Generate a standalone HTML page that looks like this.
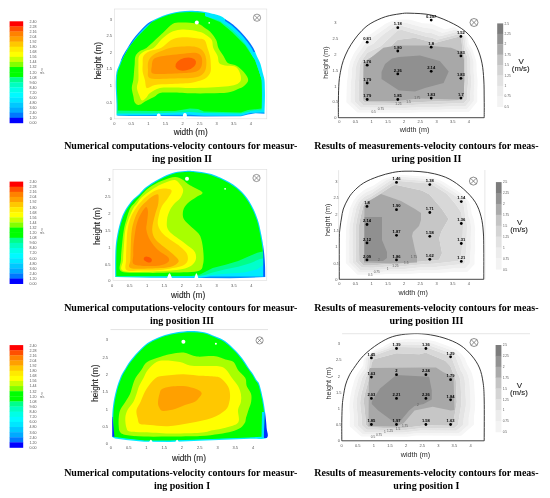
<!DOCTYPE html><html><head><meta charset="utf-8"><style>
html,body{margin:0;padding:0;background:#fff;}
svg{display:block;}
.cap{font-family:"Liberation Serif",serif;font-weight:bold;font-size:10px;fill:#000;}
.tk{font-family:"Liberation Sans",sans-serif;font-size:4px;fill:#555;}
.ax2{font-family:"Liberation Sans",sans-serif;font-size:7.2px;fill:#2a2a2a;}
.ax{font-family:"Liberation Sans",sans-serif;font-size:8.3px;fill:#222;stroke:#222;stroke-width:0.1px;}
</style></head><body>
<svg width="550" height="498" viewBox="0 0 550 498">
<defs>
<filter id="bl" x="-5%" y="-5%" width="110%" height="110%"><feGaussianBlur stdDeviation="0.7"/></filter>
<filter id="bl2" x="-5%" y="-5%" width="110%" height="110%"><feGaussianBlur stdDeviation="0.45"/></filter>
</defs>

<g>
<rect x="9.6" y="21.30" width="13.6" height="5.38" fill="#ff0000"/>
<rect x="9.6" y="26.38" width="13.6" height="5.38" fill="#ff5000"/>
<rect x="9.6" y="31.46" width="13.6" height="5.38" fill="#ff8200"/>
<rect x="9.6" y="36.54" width="13.6" height="5.38" fill="#ffa000"/>
<rect x="9.6" y="41.62" width="13.6" height="5.38" fill="#ffc800"/>
<rect x="9.6" y="46.70" width="13.6" height="5.38" fill="#ffea00"/>
<rect x="9.6" y="51.78" width="13.6" height="5.38" fill="#ffff00"/>
<rect x="9.6" y="56.86" width="13.6" height="5.38" fill="#c8ff00"/>
<rect x="9.6" y="61.94" width="13.6" height="5.38" fill="#82ff00"/>
<rect x="9.6" y="67.02" width="13.6" height="5.38" fill="#00ff00"/>
<rect x="9.6" y="72.10" width="13.6" height="5.38" fill="#00ff00"/>
<rect x="9.6" y="77.18" width="13.6" height="5.38" fill="#00ff8c"/>
<rect x="9.6" y="82.26" width="13.6" height="5.38" fill="#00ffc0"/>
<rect x="9.6" y="87.34" width="13.6" height="5.38" fill="#00ffe6"/>
<rect x="9.6" y="92.42" width="13.6" height="5.38" fill="#00faff"/>
<rect x="9.6" y="97.50" width="13.6" height="5.38" fill="#00e6ff"/>
<rect x="9.6" y="102.58" width="13.6" height="5.38" fill="#00c8ff"/>
<rect x="9.6" y="107.66" width="13.6" height="5.38" fill="#00aaff"/>
<rect x="9.6" y="112.74" width="13.6" height="5.38" fill="#0078ff"/>
<rect x="9.6" y="117.82" width="13.6" height="5.38" fill="#0000ff"/>
<text class="tk" x="29.6" y="22.70" style="font-size:3.6px" fill="#444">2.40</text>
<text class="tk" x="29.6" y="27.78" style="font-size:3.6px" fill="#444">2.28</text>
<text class="tk" x="29.6" y="32.86" style="font-size:3.6px" fill="#444">2.16</text>
<text class="tk" x="29.6" y="37.94" style="font-size:3.6px" fill="#444">2.04</text>
<text class="tk" x="29.6" y="43.02" style="font-size:3.6px" fill="#444">1.92</text>
<text class="tk" x="29.6" y="48.10" style="font-size:3.6px" fill="#444">1.80</text>
<text class="tk" x="29.6" y="53.18" style="font-size:3.6px" fill="#444">1.68</text>
<text class="tk" x="29.6" y="58.26" style="font-size:3.6px" fill="#444">1.56</text>
<text class="tk" x="29.6" y="63.34" style="font-size:3.6px" fill="#444">1.44</text>
<text class="tk" x="29.6" y="68.42" style="font-size:3.6px" fill="#444">1.32</text>
<text class="tk" x="29.6" y="73.50" style="font-size:3.6px" fill="#444">1.20</text>
<text class="tk" x="29.6" y="78.58" style="font-size:3.6px" fill="#444">1.08</text>
<text class="tk" x="29.6" y="83.66" style="font-size:3.6px" fill="#444">9.60</text>
<text class="tk" x="29.6" y="88.74" style="font-size:3.6px" fill="#444">8.40</text>
<text class="tk" x="29.6" y="93.82" style="font-size:3.6px" fill="#444">7.20</text>
<text class="tk" x="29.6" y="98.90" style="font-size:3.6px" fill="#444">6.00</text>
<text class="tk" x="29.6" y="103.98" style="font-size:3.6px" fill="#444">4.80</text>
<text class="tk" x="29.6" y="109.06" style="font-size:3.6px" fill="#444">3.60</text>
<text class="tk" x="29.6" y="114.14" style="font-size:3.6px" fill="#444">2.40</text>
<text class="tk" x="29.6" y="119.22" style="font-size:3.6px" fill="#444">1.20</text>
<text class="tk" x="29.6" y="124.30" style="font-size:3.6px" fill="#444">0.00</text>
<text class="tk" x="41" y="70.6" style="font-size:2.6px">V</text>
<text class="tk" x="40" y="73.6" style="font-size:2.6px">m/s</text>
</g>
<g>
<rect x="9.6" y="181.60" width="13.6" height="5.40" fill="#ff0000"/>
<rect x="9.6" y="186.70" width="13.6" height="5.40" fill="#ff5000"/>
<rect x="9.6" y="191.81" width="13.6" height="5.40" fill="#ff8200"/>
<rect x="9.6" y="196.91" width="13.6" height="5.40" fill="#ffa000"/>
<rect x="9.6" y="202.02" width="13.6" height="5.40" fill="#ffc800"/>
<rect x="9.6" y="207.12" width="13.6" height="5.40" fill="#ffea00"/>
<rect x="9.6" y="212.23" width="13.6" height="5.40" fill="#ffff00"/>
<rect x="9.6" y="217.33" width="13.6" height="5.40" fill="#c8ff00"/>
<rect x="9.6" y="222.44" width="13.6" height="5.40" fill="#82ff00"/>
<rect x="9.6" y="227.54" width="13.6" height="5.40" fill="#00ff00"/>
<rect x="9.6" y="232.65" width="13.6" height="5.40" fill="#00ff00"/>
<rect x="9.6" y="237.75" width="13.6" height="5.40" fill="#00ff8c"/>
<rect x="9.6" y="242.86" width="13.6" height="5.40" fill="#00ffc0"/>
<rect x="9.6" y="247.96" width="13.6" height="5.40" fill="#00ffe6"/>
<rect x="9.6" y="253.07" width="13.6" height="5.40" fill="#00faff"/>
<rect x="9.6" y="258.17" width="13.6" height="5.40" fill="#00e6ff"/>
<rect x="9.6" y="263.28" width="13.6" height="5.40" fill="#00c8ff"/>
<rect x="9.6" y="268.38" width="13.6" height="5.40" fill="#00aaff"/>
<rect x="9.6" y="273.49" width="13.6" height="5.40" fill="#0078ff"/>
<rect x="9.6" y="278.59" width="13.6" height="5.40" fill="#0000ff"/>
<text class="tk" x="29.6" y="183.00" style="font-size:3.6px" fill="#444">2.40</text>
<text class="tk" x="29.6" y="188.10" style="font-size:3.6px" fill="#444">2.28</text>
<text class="tk" x="29.6" y="193.21" style="font-size:3.6px" fill="#444">2.16</text>
<text class="tk" x="29.6" y="198.31" style="font-size:3.6px" fill="#444">2.04</text>
<text class="tk" x="29.6" y="203.42" style="font-size:3.6px" fill="#444">1.92</text>
<text class="tk" x="29.6" y="208.53" style="font-size:3.6px" fill="#444">1.80</text>
<text class="tk" x="29.6" y="213.63" style="font-size:3.6px" fill="#444">1.68</text>
<text class="tk" x="29.6" y="218.73" style="font-size:3.6px" fill="#444">1.56</text>
<text class="tk" x="29.6" y="223.84" style="font-size:3.6px" fill="#444">1.44</text>
<text class="tk" x="29.6" y="228.94" style="font-size:3.6px" fill="#444">1.32</text>
<text class="tk" x="29.6" y="234.05" style="font-size:3.6px" fill="#444">1.20</text>
<text class="tk" x="29.6" y="239.16" style="font-size:3.6px" fill="#444">1.08</text>
<text class="tk" x="29.6" y="244.26" style="font-size:3.6px" fill="#444">9.60</text>
<text class="tk" x="29.6" y="249.36" style="font-size:3.6px" fill="#444">8.40</text>
<text class="tk" x="29.6" y="254.47" style="font-size:3.6px" fill="#444">7.20</text>
<text class="tk" x="29.6" y="259.57" style="font-size:3.6px" fill="#444">6.00</text>
<text class="tk" x="29.6" y="264.68" style="font-size:3.6px" fill="#444">4.80</text>
<text class="tk" x="29.6" y="269.78" style="font-size:3.6px" fill="#444">3.60</text>
<text class="tk" x="29.6" y="274.89" style="font-size:3.6px" fill="#444">2.40</text>
<text class="tk" x="29.6" y="279.99" style="font-size:3.6px" fill="#444">1.20</text>
<text class="tk" x="29.6" y="285.10" style="font-size:3.6px" fill="#444">0.00</text>
<text class="tk" x="41" y="231.1" style="font-size:2.6px">V</text>
<text class="tk" x="40" y="234.1" style="font-size:2.6px">m/s</text>
</g>
<g>
<rect x="9.6" y="345.10" width="13.6" height="5.42" fill="#ff0000"/>
<rect x="9.6" y="350.22" width="13.6" height="5.42" fill="#ff5000"/>
<rect x="9.6" y="355.34" width="13.6" height="5.42" fill="#ff8200"/>
<rect x="9.6" y="360.46" width="13.6" height="5.42" fill="#ffa000"/>
<rect x="9.6" y="365.58" width="13.6" height="5.42" fill="#ffc800"/>
<rect x="9.6" y="370.70" width="13.6" height="5.42" fill="#ffea00"/>
<rect x="9.6" y="375.82" width="13.6" height="5.42" fill="#ffff00"/>
<rect x="9.6" y="380.94" width="13.6" height="5.42" fill="#c8ff00"/>
<rect x="9.6" y="386.06" width="13.6" height="5.42" fill="#82ff00"/>
<rect x="9.6" y="391.18" width="13.6" height="5.42" fill="#00ff00"/>
<rect x="9.6" y="396.30" width="13.6" height="5.42" fill="#00ff00"/>
<rect x="9.6" y="401.42" width="13.6" height="5.42" fill="#00ff8c"/>
<rect x="9.6" y="406.54" width="13.6" height="5.42" fill="#00ffc0"/>
<rect x="9.6" y="411.66" width="13.6" height="5.42" fill="#00ffe6"/>
<rect x="9.6" y="416.78" width="13.6" height="5.42" fill="#00faff"/>
<rect x="9.6" y="421.90" width="13.6" height="5.42" fill="#00e6ff"/>
<rect x="9.6" y="427.02" width="13.6" height="5.42" fill="#00c8ff"/>
<rect x="9.6" y="432.14" width="13.6" height="5.42" fill="#00aaff"/>
<rect x="9.6" y="437.26" width="13.6" height="5.42" fill="#0078ff"/>
<rect x="9.6" y="442.38" width="13.6" height="5.42" fill="#0000ff"/>
<text class="tk" x="29.6" y="346.50" style="font-size:3.6px" fill="#444">2.40</text>
<text class="tk" x="29.6" y="351.62" style="font-size:3.6px" fill="#444">2.28</text>
<text class="tk" x="29.6" y="356.74" style="font-size:3.6px" fill="#444">2.16</text>
<text class="tk" x="29.6" y="361.86" style="font-size:3.6px" fill="#444">2.04</text>
<text class="tk" x="29.6" y="366.98" style="font-size:3.6px" fill="#444">1.92</text>
<text class="tk" x="29.6" y="372.10" style="font-size:3.6px" fill="#444">1.80</text>
<text class="tk" x="29.6" y="377.22" style="font-size:3.6px" fill="#444">1.68</text>
<text class="tk" x="29.6" y="382.34" style="font-size:3.6px" fill="#444">1.56</text>
<text class="tk" x="29.6" y="387.46" style="font-size:3.6px" fill="#444">1.44</text>
<text class="tk" x="29.6" y="392.58" style="font-size:3.6px" fill="#444">1.32</text>
<text class="tk" x="29.6" y="397.70" style="font-size:3.6px" fill="#444">1.20</text>
<text class="tk" x="29.6" y="402.82" style="font-size:3.6px" fill="#444">1.08</text>
<text class="tk" x="29.6" y="407.94" style="font-size:3.6px" fill="#444">9.60</text>
<text class="tk" x="29.6" y="413.06" style="font-size:3.6px" fill="#444">8.40</text>
<text class="tk" x="29.6" y="418.18" style="font-size:3.6px" fill="#444">7.20</text>
<text class="tk" x="29.6" y="423.30" style="font-size:3.6px" fill="#444">6.00</text>
<text class="tk" x="29.6" y="428.42" style="font-size:3.6px" fill="#444">4.80</text>
<text class="tk" x="29.6" y="433.54" style="font-size:3.6px" fill="#444">3.60</text>
<text class="tk" x="29.6" y="438.66" style="font-size:3.6px" fill="#444">2.40</text>
<text class="tk" x="29.6" y="443.78" style="font-size:3.6px" fill="#444">1.20</text>
<text class="tk" x="29.6" y="448.90" style="font-size:3.6px" fill="#444">0.00</text>
<text class="tk" x="41" y="394.8" style="font-size:2.6px">V</text>
<text class="tk" x="40" y="397.8" style="font-size:2.6px">m/s</text>
</g>
<text class="cap" x="180.8" y="149" text-anchor="middle">Numerical computations-velocity contours for measur-</text>
<text class="cap" x="182" y="161.7" text-anchor="middle">ing position II</text>
<text class="cap" x="426.4" y="149" text-anchor="middle">Results of measurements-velocity contours for meas-</text>
<text class="cap" x="426.4" y="161.7" text-anchor="middle">uring position II</text>
<text class="cap" x="180.8" y="311" text-anchor="middle">Numerical computations-velocity contours for measur-</text>
<text class="cap" x="182" y="323.7" text-anchor="middle">ing position III</text>
<text class="cap" x="426.4" y="311" text-anchor="middle">Results of measurements-velocity contours for meas-</text>
<text class="cap" x="426.4" y="323.7" text-anchor="middle">uring position III</text>
<text class="cap" x="180.8" y="475.8" text-anchor="middle">Numerical computations-velocity contours for measur-</text>
<text class="cap" x="182" y="488.5" text-anchor="middle">ing position I</text>
<text class="cap" x="426.4" y="475.8" text-anchor="middle">Results of measurements-velocity contours for meas-</text>
<text class="cap" x="426.4" y="488.5" text-anchor="middle">uring position I</text>
<rect x="114.5" y="9" width="152.3" height="109.8" fill="none" stroke="#dcdcdc" stroke-width="0.6"/>
<text class="tk" x="112.0" y="120.1" text-anchor="end">0</text>
<text class="tk" x="112.0" y="103.5" text-anchor="end">0.5</text>
<text class="tk" x="112.0" y="86.9" text-anchor="end">1</text>
<text class="tk" x="112.0" y="70.3" text-anchor="end">1.5</text>
<text class="tk" x="112.0" y="53.8" text-anchor="end">2</text>
<text class="tk" x="112.0" y="37.2" text-anchor="end">2.5</text>
<text class="tk" x="112.0" y="20.6" text-anchor="end">3</text>
<text class="tk" x="114.3" y="124.5" text-anchor="middle">0</text>
<text class="tk" x="131.4" y="124.5" text-anchor="middle">0.5</text>
<text class="tk" x="148.4" y="124.5" text-anchor="middle">1</text>
<text class="tk" x="165.5" y="124.5" text-anchor="middle">1.5</text>
<text class="tk" x="182.6" y="124.5" text-anchor="middle">2</text>
<text class="tk" x="199.6" y="124.5" text-anchor="middle">2.5</text>
<text class="tk" x="216.7" y="124.5" text-anchor="middle">3</text>
<text class="tk" x="233.7" y="124.5" text-anchor="middle">3.5</text>
<text class="tk" x="250.8" y="124.5" text-anchor="middle">4</text>
<text class="ax" x="173.7" y="135.1">width (m)</text>
<text class="ax" transform="translate(100.6,60.6) rotate(-90)" text-anchor="middle">height (m)</text>
<g stroke="#555" stroke-width="0.6" fill="none"><circle cx="257" cy="17.7" r="3.6"/><path d="M254.6,15.299999999999999 L259.4,20.099999999999998 M254.6,20.099999999999998 L259.4,15.299999999999999"/></g>
<clipPath id="c1"><path d="M116.5,115.3 C116.5,113.4 116.6,108.5 116.5,104.0 C116.4,99.5 115.9,92.0 115.8,88.0 C115.7,84.0 115.7,82.7 115.8,80.0 C115.9,77.3 115.9,74.7 116.5,72.0 C117.1,69.3 118.5,66.7 119.5,64.0 C120.5,61.3 121.4,58.7 122.7,56.0 C124.0,53.3 125.9,50.7 127.5,48.0 C129.1,45.3 130.6,42.7 132.5,40.0 C134.4,37.3 136.7,34.7 139.1,32.0 C141.5,29.3 144.6,26.0 147.0,24.0 C149.4,22.0 151.0,21.3 153.6,20.0 C156.2,18.7 159.5,17.1 162.4,16.0 C165.3,14.9 168.1,13.9 171.0,13.2 C173.9,12.4 176.8,11.9 180.0,11.5 C183.2,11.1 186.7,10.8 190.0,10.8 C193.3,10.8 197.1,11.0 200.0,11.3 C202.9,11.6 204.1,11.7 207.5,12.5 C210.9,13.3 217.3,14.8 220.5,16.0 C223.7,17.2 224.3,18.6 226.4,20.0 C228.5,21.4 230.6,22.5 233.0,24.5 C235.4,26.5 238.4,29.4 240.9,32.0 C243.4,34.6 245.7,37.3 247.8,40.0 C249.9,42.7 251.8,45.3 253.3,48.0 C254.8,50.7 255.6,53.3 256.8,56.0 C258.0,58.7 259.6,61.3 260.5,64.0 C261.4,66.7 261.8,69.3 262.5,72.0 C263.2,74.7 264.1,77.0 264.5,80.0 C264.9,83.0 264.8,86.7 264.9,90.0 C265.0,93.3 265.0,96.0 264.9,100.0 C264.8,104.0 264.6,111.5 264.5,113.8 L255.5,113.2 L248.0,114.5 L241.0,116.2 L204.5,116.5 L190.0,116.3 L158.7,116.0 L130.0,116.0 L118.0,115.8Z"/></clipPath>
<g clip-path="url(#c1)"><g filter="url(#bl)">
<path d="M116.5,115.3 C116.5,113.4 116.6,108.5 116.5,104.0 C116.4,99.5 115.9,92.0 115.8,88.0 C115.7,84.0 115.7,82.7 115.8,80.0 C115.9,77.3 115.9,74.7 116.5,72.0 C117.1,69.3 118.5,66.7 119.5,64.0 C120.5,61.3 121.4,58.7 122.7,56.0 C124.0,53.3 125.9,50.7 127.5,48.0 C129.1,45.3 130.6,42.7 132.5,40.0 C134.4,37.3 136.7,34.7 139.1,32.0 C141.5,29.3 144.6,26.0 147.0,24.0 C149.4,22.0 151.0,21.3 153.6,20.0 C156.2,18.7 159.5,17.1 162.4,16.0 C165.3,14.9 168.1,13.9 171.0,13.2 C173.9,12.4 176.8,11.9 180.0,11.5 C183.2,11.1 186.7,10.8 190.0,10.8 C193.3,10.8 197.1,11.0 200.0,11.3 C202.9,11.6 204.1,11.7 207.5,12.5 C210.9,13.3 217.3,14.8 220.5,16.0 C223.7,17.2 224.3,18.6 226.4,20.0 C228.5,21.4 230.6,22.5 233.0,24.5 C235.4,26.5 238.4,29.4 240.9,32.0 C243.4,34.6 245.7,37.3 247.8,40.0 C249.9,42.7 251.8,45.3 253.3,48.0 C254.8,50.7 255.6,53.3 256.8,56.0 C258.0,58.7 259.6,61.3 260.5,64.0 C261.4,66.7 261.8,69.3 262.5,72.0 C263.2,74.7 264.1,77.0 264.5,80.0 C264.9,83.0 264.8,86.7 264.9,90.0 C265.0,93.3 265.0,96.0 264.9,100.0 C264.8,104.0 264.6,111.5 264.5,113.8 L255.5,113.2 L248.0,114.5 L241.0,116.2 L204.5,116.5 L190.0,116.3 L158.7,116.0 L130.0,116.0 L118.0,115.8Z" fill="#00ff00" stroke="#00d8ff" stroke-width="2.2"/>
<clipPath id="tr1"><path d="M205,0 L280,0 L280,80 L262,80 L255,60 L245,45 L232,32 L220,22 L205,16Z"/></clipPath><clipPath id="tl1"><path d="M100,0 L170,0 L150,24 L138,36 L128,48 L122,60 L100,60Z"/></clipPath><clipPath id="tb1"><path d="M225,15 L260,15 L260,52 L225,52Z"/></clipPath><clipPath id="rr1"><path d="M250,60 L280,60 L280,112 L250,112Z"/></clipPath><path d="M105,130 L105,110.5 L150,111 L175,111 L190,108.5 L198,109 L204,111.5 L241,112.5 L248,110 L262,108.5 L275,108 L275,130Z" fill="#00ff90"/><path d="M105,130 L105,113.6 L150,113.6 L190,112 L204,113 L241,113.5 L250,111.5 L262,110.5 L275,110 L275,130Z" fill="#00e6ff"/><path d="M105,130 L105,115.6 L190,114.8 L204,115.8 L241,115.8 L250,113 L262,112.6 L275,112.6 L275,130Z" fill="#0090ff"/><g clip-path="url(#tr1)"><path d="M116.5,115.3 C116.5,113.4 116.6,108.5 116.5,104.0 C116.4,99.5 115.9,92.0 115.8,88.0 C115.7,84.0 115.7,82.7 115.8,80.0 C115.9,77.3 115.9,74.7 116.5,72.0 C117.1,69.3 118.5,66.7 119.5,64.0 C120.5,61.3 121.4,58.7 122.7,56.0 C124.0,53.3 125.9,50.7 127.5,48.0 C129.1,45.3 130.6,42.7 132.5,40.0 C134.4,37.3 136.7,34.7 139.1,32.0 C141.5,29.3 144.6,26.0 147.0,24.0 C149.4,22.0 151.0,21.3 153.6,20.0 C156.2,18.7 159.5,17.1 162.4,16.0 C165.3,14.9 168.1,13.9 171.0,13.2 C173.9,12.4 176.8,11.9 180.0,11.5 C183.2,11.1 186.7,10.8 190.0,10.8 C193.3,10.8 197.1,11.0 200.0,11.3 C202.9,11.6 204.1,11.7 207.5,12.5 C210.9,13.3 217.3,14.8 220.5,16.0 C223.7,17.2 224.3,18.6 226.4,20.0 C228.5,21.4 230.6,22.5 233.0,24.5 C235.4,26.5 238.4,29.4 240.9,32.0 C243.4,34.6 245.7,37.3 247.8,40.0 C249.9,42.7 251.8,45.3 253.3,48.0 C254.8,50.7 255.6,53.3 256.8,56.0 C258.0,58.7 259.6,61.3 260.5,64.0 C261.4,66.7 261.8,69.3 262.5,72.0 C263.2,74.7 264.1,77.0 264.5,80.0 C264.9,83.0 264.8,86.7 264.9,90.0 C265.0,93.3 265.0,96.0 264.9,100.0 C264.8,104.0 264.6,111.5 264.5,113.8 L255.5,113.2 L248.0,114.5 L241.0,116.2 L204.5,116.5 L190.0,116.3 L158.7,116.0 L130.0,116.0 L118.0,115.8Z" fill="none" stroke="#00ffa0" stroke-width="14"/><path d="M116.5,115.3 C116.5,113.4 116.6,108.5 116.5,104.0 C116.4,99.5 115.9,92.0 115.8,88.0 C115.7,84.0 115.7,82.7 115.8,80.0 C115.9,77.3 115.9,74.7 116.5,72.0 C117.1,69.3 118.5,66.7 119.5,64.0 C120.5,61.3 121.4,58.7 122.7,56.0 C124.0,53.3 125.9,50.7 127.5,48.0 C129.1,45.3 130.6,42.7 132.5,40.0 C134.4,37.3 136.7,34.7 139.1,32.0 C141.5,29.3 144.6,26.0 147.0,24.0 C149.4,22.0 151.0,21.3 153.6,20.0 C156.2,18.7 159.5,17.1 162.4,16.0 C165.3,14.9 168.1,13.9 171.0,13.2 C173.9,12.4 176.8,11.9 180.0,11.5 C183.2,11.1 186.7,10.8 190.0,10.8 C193.3,10.8 197.1,11.0 200.0,11.3 C202.9,11.6 204.1,11.7 207.5,12.5 C210.9,13.3 217.3,14.8 220.5,16.0 C223.7,17.2 224.3,18.6 226.4,20.0 C228.5,21.4 230.6,22.5 233.0,24.5 C235.4,26.5 238.4,29.4 240.9,32.0 C243.4,34.6 245.7,37.3 247.8,40.0 C249.9,42.7 251.8,45.3 253.3,48.0 C254.8,50.7 255.6,53.3 256.8,56.0 C258.0,58.7 259.6,61.3 260.5,64.0 C261.4,66.7 261.8,69.3 262.5,72.0 C263.2,74.7 264.1,77.0 264.5,80.0 C264.9,83.0 264.8,86.7 264.9,90.0 C265.0,93.3 265.0,96.0 264.9,100.0 C264.8,104.0 264.6,111.5 264.5,113.8 L255.5,113.2 L248.0,114.5 L241.0,116.2 L204.5,116.5 L190.0,116.3 L158.7,116.0 L130.0,116.0 L118.0,115.8Z" fill="none" stroke="#00e8ff" stroke-width="9"/></g><g clip-path="url(#tb1)"><path d="M116.5,115.3 C116.5,113.4 116.6,108.5 116.5,104.0 C116.4,99.5 115.9,92.0 115.8,88.0 C115.7,84.0 115.7,82.7 115.8,80.0 C115.9,77.3 115.9,74.7 116.5,72.0 C117.1,69.3 118.5,66.7 119.5,64.0 C120.5,61.3 121.4,58.7 122.7,56.0 C124.0,53.3 125.9,50.7 127.5,48.0 C129.1,45.3 130.6,42.7 132.5,40.0 C134.4,37.3 136.7,34.7 139.1,32.0 C141.5,29.3 144.6,26.0 147.0,24.0 C149.4,22.0 151.0,21.3 153.6,20.0 C156.2,18.7 159.5,17.1 162.4,16.0 C165.3,14.9 168.1,13.9 171.0,13.2 C173.9,12.4 176.8,11.9 180.0,11.5 C183.2,11.1 186.7,10.8 190.0,10.8 C193.3,10.8 197.1,11.0 200.0,11.3 C202.9,11.6 204.1,11.7 207.5,12.5 C210.9,13.3 217.3,14.8 220.5,16.0 C223.7,17.2 224.3,18.6 226.4,20.0 C228.5,21.4 230.6,22.5 233.0,24.5 C235.4,26.5 238.4,29.4 240.9,32.0 C243.4,34.6 245.7,37.3 247.8,40.0 C249.9,42.7 251.8,45.3 253.3,48.0 C254.8,50.7 255.6,53.3 256.8,56.0 C258.0,58.7 259.6,61.3 260.5,64.0 C261.4,66.7 261.8,69.3 262.5,72.0 C263.2,74.7 264.1,77.0 264.5,80.0 C264.9,83.0 264.8,86.7 264.9,90.0 C265.0,93.3 265.0,96.0 264.9,100.0 C264.8,104.0 264.6,111.5 264.5,113.8 L255.5,113.2 L248.0,114.5 L241.0,116.2 L204.5,116.5 L190.0,116.3 L158.7,116.0 L130.0,116.0 L118.0,115.8Z" fill="none" stroke="#0070ff" stroke-width="3"/></g><g clip-path="url(#tl1)"><path d="M116.5,115.3 C116.5,113.4 116.6,108.5 116.5,104.0 C116.4,99.5 115.9,92.0 115.8,88.0 C115.7,84.0 115.7,82.7 115.8,80.0 C115.9,77.3 115.9,74.7 116.5,72.0 C117.1,69.3 118.5,66.7 119.5,64.0 C120.5,61.3 121.4,58.7 122.7,56.0 C124.0,53.3 125.9,50.7 127.5,48.0 C129.1,45.3 130.6,42.7 132.5,40.0 C134.4,37.3 136.7,34.7 139.1,32.0 C141.5,29.3 144.6,26.0 147.0,24.0 C149.4,22.0 151.0,21.3 153.6,20.0 C156.2,18.7 159.5,17.1 162.4,16.0 C165.3,14.9 168.1,13.9 171.0,13.2 C173.9,12.4 176.8,11.9 180.0,11.5 C183.2,11.1 186.7,10.8 190.0,10.8 C193.3,10.8 197.1,11.0 200.0,11.3 C202.9,11.6 204.1,11.7 207.5,12.5 C210.9,13.3 217.3,14.8 220.5,16.0 C223.7,17.2 224.3,18.6 226.4,20.0 C228.5,21.4 230.6,22.5 233.0,24.5 C235.4,26.5 238.4,29.4 240.9,32.0 C243.4,34.6 245.7,37.3 247.8,40.0 C249.9,42.7 251.8,45.3 253.3,48.0 C254.8,50.7 255.6,53.3 256.8,56.0 C258.0,58.7 259.6,61.3 260.5,64.0 C261.4,66.7 261.8,69.3 262.5,72.0 C263.2,74.7 264.1,77.0 264.5,80.0 C264.9,83.0 264.8,86.7 264.9,90.0 C265.0,93.3 265.0,96.0 264.9,100.0 C264.8,104.0 264.6,111.5 264.5,113.8 L255.5,113.2 L248.0,114.5 L241.0,116.2 L204.5,116.5 L190.0,116.3 L158.7,116.0 L130.0,116.0 L118.0,115.8Z" fill="none" stroke="#00e0ff" stroke-width="8"/><path d="M116.5,115.3 C116.5,113.4 116.6,108.5 116.5,104.0 C116.4,99.5 115.9,92.0 115.8,88.0 C115.7,84.0 115.7,82.7 115.8,80.0 C115.9,77.3 115.9,74.7 116.5,72.0 C117.1,69.3 118.5,66.7 119.5,64.0 C120.5,61.3 121.4,58.7 122.7,56.0 C124.0,53.3 125.9,50.7 127.5,48.0 C129.1,45.3 130.6,42.7 132.5,40.0 C134.4,37.3 136.7,34.7 139.1,32.0 C141.5,29.3 144.6,26.0 147.0,24.0 C149.4,22.0 151.0,21.3 153.6,20.0 C156.2,18.7 159.5,17.1 162.4,16.0 C165.3,14.9 168.1,13.9 171.0,13.2 C173.9,12.4 176.8,11.9 180.0,11.5 C183.2,11.1 186.7,10.8 190.0,10.8 C193.3,10.8 197.1,11.0 200.0,11.3 C202.9,11.6 204.1,11.7 207.5,12.5 C210.9,13.3 217.3,14.8 220.5,16.0 C223.7,17.2 224.3,18.6 226.4,20.0 C228.5,21.4 230.6,22.5 233.0,24.5 C235.4,26.5 238.4,29.4 240.9,32.0 C243.4,34.6 245.7,37.3 247.8,40.0 C249.9,42.7 251.8,45.3 253.3,48.0 C254.8,50.7 255.6,53.3 256.8,56.0 C258.0,58.7 259.6,61.3 260.5,64.0 C261.4,66.7 261.8,69.3 262.5,72.0 C263.2,74.7 264.1,77.0 264.5,80.0 C264.9,83.0 264.8,86.7 264.9,90.0 C265.0,93.3 265.0,96.0 264.9,100.0 C264.8,104.0 264.6,111.5 264.5,113.8 L255.5,113.2 L248.0,114.5 L241.0,116.2 L204.5,116.5 L190.0,116.3 L158.7,116.0 L130.0,116.0 L118.0,115.8Z" fill="none" stroke="#0080ff" stroke-width="2.5"/></g><g clip-path="url(#rr1)"><path d="M116.5,115.3 C116.5,113.4 116.6,108.5 116.5,104.0 C116.4,99.5 115.9,92.0 115.8,88.0 C115.7,84.0 115.7,82.7 115.8,80.0 C115.9,77.3 115.9,74.7 116.5,72.0 C117.1,69.3 118.5,66.7 119.5,64.0 C120.5,61.3 121.4,58.7 122.7,56.0 C124.0,53.3 125.9,50.7 127.5,48.0 C129.1,45.3 130.6,42.7 132.5,40.0 C134.4,37.3 136.7,34.7 139.1,32.0 C141.5,29.3 144.6,26.0 147.0,24.0 C149.4,22.0 151.0,21.3 153.6,20.0 C156.2,18.7 159.5,17.1 162.4,16.0 C165.3,14.9 168.1,13.9 171.0,13.2 C173.9,12.4 176.8,11.9 180.0,11.5 C183.2,11.1 186.7,10.8 190.0,10.8 C193.3,10.8 197.1,11.0 200.0,11.3 C202.9,11.6 204.1,11.7 207.5,12.5 C210.9,13.3 217.3,14.8 220.5,16.0 C223.7,17.2 224.3,18.6 226.4,20.0 C228.5,21.4 230.6,22.5 233.0,24.5 C235.4,26.5 238.4,29.4 240.9,32.0 C243.4,34.6 245.7,37.3 247.8,40.0 C249.9,42.7 251.8,45.3 253.3,48.0 C254.8,50.7 255.6,53.3 256.8,56.0 C258.0,58.7 259.6,61.3 260.5,64.0 C261.4,66.7 261.8,69.3 262.5,72.0 C263.2,74.7 264.1,77.0 264.5,80.0 C264.9,83.0 264.8,86.7 264.9,90.0 C265.0,93.3 265.0,96.0 264.9,100.0 C264.8,104.0 264.6,111.5 264.5,113.8 L255.5,113.2 L248.0,114.5 L241.0,116.2 L204.5,116.5 L190.0,116.3 L158.7,116.0 L130.0,116.0 L118.0,115.8Z" fill="none" stroke="#00e8ff" stroke-width="6"/></g>
<path d="M137.5,104.8 C136.5,104.4 135.2,103.5 134.5,102.0 C133.8,100.5 133.8,98.3 133.3,96.0 C132.9,93.7 131.8,90.7 131.8,88.0 C131.8,85.3 132.9,82.7 133.3,80.0 C133.7,77.3 133.8,74.7 134.0,72.0 C134.2,69.3 134.4,66.7 134.7,64.0 C134.9,61.3 134.6,58.2 135.5,56.0 C136.4,53.8 138.2,52.3 140.0,51.0 C141.8,49.7 143.9,49.8 146.4,48.0 C148.9,46.2 152.2,42.7 155.1,40.0 C158.0,37.3 160.9,34.7 163.8,32.0 C166.7,29.3 169.8,25.6 172.5,24.0 C175.2,22.4 177.1,22.7 180.0,22.5 C182.9,22.3 186.9,22.6 190.0,22.8 C193.1,23.1 196.2,23.1 198.7,24.0 C201.2,24.9 203.1,26.7 205.0,28.0 C206.9,29.3 208.5,30.0 210.4,32.0 C212.3,34.0 214.9,37.3 216.2,40.0 C217.5,42.7 217.2,45.3 218.4,48.0 C219.6,50.7 221.9,53.5 223.5,56.0 C225.1,58.5 225.7,61.4 227.8,63.0 C229.9,64.6 233.3,64.0 236.0,65.5 C238.7,67.0 241.8,69.6 243.8,72.0 C245.8,74.4 248.2,77.7 248.2,80.0 C248.2,82.3 245.7,84.5 244.0,86.0 C242.3,87.5 240.7,87.9 238.0,89.0 C235.3,90.1 232.7,91.8 228.0,92.5 C223.3,93.2 216.3,93.2 210.0,93.3 C203.7,93.4 196.7,93.4 190.0,93.3 C183.3,93.2 175.0,92.6 170.0,92.6 C165.0,92.5 162.7,92.3 160.0,93.0 C157.3,93.7 156.5,95.6 154.0,97.0 C151.5,98.4 147.2,100.2 145.0,101.5 C142.8,102.8 141.8,104.0 140.5,104.5 C139.2,105.0 138.5,105.2 137.5,104.8Z" fill="#a8ff00"/>
<path d="M142.0,100.5 C140.9,100.2 140.3,98.1 139.5,96.0 C138.7,93.9 137.1,90.7 136.9,88.0 C136.7,85.3 138.2,82.7 138.4,80.0 C138.7,77.3 138.4,74.7 138.4,72.0 C138.4,69.3 138.3,66.7 138.4,64.0 C138.5,61.3 138.0,58.2 139.1,56.0 C140.2,53.8 142.6,52.3 145.0,51.0 C147.4,49.7 150.9,49.8 153.6,48.0 C156.2,46.2 158.5,42.3 160.9,40.0 C163.3,37.7 165.8,35.5 168.0,34.0 C170.2,32.5 171.7,31.8 174.0,31.0 C176.3,30.2 179.3,29.7 182.0,29.5 C184.7,29.3 187.0,29.6 190.0,30.0 C193.0,30.4 197.5,31.2 200.2,32.0 C202.9,32.8 204.1,33.7 206.0,35.0 C207.9,36.3 210.6,37.8 211.8,40.0 C213.0,42.2 212.3,45.3 213.3,48.0 C214.3,50.7 216.6,53.5 217.6,56.0 C218.6,58.5 217.9,61.4 219.1,63.0 C220.3,64.6 222.3,64.9 225.0,65.5 C227.7,66.1 232.6,65.4 235.0,66.5 C237.4,67.6 238.5,69.8 239.5,72.0 C240.5,74.2 241.5,77.9 240.9,80.0 C240.3,82.1 238.7,83.4 236.0,84.5 C233.3,85.6 229.3,86.0 225.0,86.5 C220.7,87.0 215.8,87.2 210.0,87.5 C204.2,87.8 195.8,88.0 190.0,88.0 C184.2,88.0 180.0,87.5 175.0,87.5 C170.0,87.5 164.2,87.1 160.0,88.0 C155.8,88.9 152.3,91.3 150.0,93.0 C147.7,94.7 147.3,96.8 146.0,98.0 C144.7,99.2 143.1,100.8 142.0,100.5Z" fill="#ffff00"/>
<path d="M146.0,87.0 C145.5,85.7 145.5,82.5 144.9,80.0 C144.3,77.5 143.1,74.7 142.7,72.0 C142.3,69.3 142.6,66.7 142.7,64.0 C142.8,61.3 142.3,58.2 143.5,56.0 C144.7,53.8 147.1,52.3 150.0,51.0 C152.9,49.7 157.4,49.8 160.9,48.0 C164.4,46.2 167.9,41.8 171.1,40.0 C174.3,38.2 176.8,37.9 180.0,37.5 C183.2,37.1 187.0,37.3 190.0,37.5 C193.0,37.7 195.6,38.1 198.0,38.5 C200.4,38.9 202.9,38.4 204.5,40.0 C206.1,41.6 206.6,45.3 207.5,48.0 C208.4,50.7 209.4,53.3 210.0,56.0 C210.6,58.7 210.7,61.3 210.8,64.0 C210.9,66.7 211.3,69.7 210.5,72.0 C209.7,74.3 208.0,76.5 206.0,78.0 C204.0,79.5 201.4,80.2 198.7,81.0 C196.0,81.8 194.8,82.5 190.0,83.0 C185.2,83.5 175.8,83.7 170.0,84.0 C164.2,84.3 158.7,84.3 155.0,85.0 C151.3,85.7 149.5,87.7 148.0,88.0 C146.5,88.3 146.5,88.3 146.0,87.0Z" fill="#ffd200"/>
<path d="M148.5,77.0 C147.3,75.5 148.1,72.5 148.0,70.0 C147.9,67.5 147.5,64.3 148.2,62.0 C148.9,59.7 150.0,57.8 152.0,56.0 C154.0,54.2 156.7,52.9 160.0,51.5 C163.3,50.1 167.8,48.4 172.0,47.5 C176.2,46.6 181.0,46.5 185.0,46.4 C189.0,46.3 193.2,46.4 196.0,47.0 C198.8,47.6 200.4,48.5 202.0,50.0 C203.6,51.5 204.8,53.8 205.5,56.0 C206.2,58.2 206.5,60.5 206.4,63.0 C206.3,65.5 206.1,68.8 205.0,71.0 C203.9,73.2 202.5,74.8 200.0,76.0 C197.5,77.2 195.0,77.6 190.0,78.0 C185.0,78.4 175.8,78.3 170.0,78.5 C164.2,78.7 158.6,79.2 155.0,79.0 C151.4,78.8 149.7,78.5 148.5,77.0Z" fill="#ffb000"/>
<path d="M152.0,73.0 C150.6,71.7 151.6,68.2 151.8,66.0 C152.0,63.8 152.1,61.5 153.0,60.0 C153.9,58.5 155.1,58.0 157.3,57.3 C159.5,56.5 162.6,56.0 166.4,55.5 C170.2,55.0 175.6,54.5 180.0,54.0 C184.4,53.5 189.8,52.7 193.0,52.7 C196.2,52.7 197.5,53.1 199.0,54.0 C200.5,54.9 201.3,56.2 201.8,58.0 C202.3,59.8 202.3,63.0 201.8,65.0 C201.3,67.0 200.6,68.8 199.0,70.0 C197.4,71.2 196.0,71.9 192.0,72.5 C188.0,73.1 180.3,73.2 175.0,73.5 C169.7,73.8 163.8,74.1 160.0,74.0 C156.2,73.9 153.4,74.3 152.0,73.0Z" fill="#ff9000"/>
<ellipse cx="185.7" cy="64.1" rx="10.6" ry="6.2" transform="rotate(-15 185.7 64.1)" fill="#ff6000"/>

</g></g>
<circle cx="196.8" cy="22.6" r="2" fill="#fff"/><circle cx="209.2" cy="22.9" r="0.8" fill="#fff"/>
<ellipse cx="158.7" cy="116.5" rx="2" ry="3" fill="#fff"/><ellipse cx="184.9" cy="116" rx="2" ry="3" fill="#fff"/>
<rect x="113" y="169.5" width="153.8" height="111.0" fill="none" stroke="#dcdcdc" stroke-width="0.6"/>
<text class="tk" x="110.5" y="282.4" text-anchor="end">0</text>
<text class="tk" x="110.5" y="265.6" text-anchor="end">0.5</text>
<text class="tk" x="110.5" y="248.7" text-anchor="end">1</text>
<text class="tk" x="110.5" y="231.9" text-anchor="end">1.5</text>
<text class="tk" x="110.5" y="215.0" text-anchor="end">2</text>
<text class="tk" x="110.5" y="198.2" text-anchor="end">2.5</text>
<text class="tk" x="110.5" y="181.3" text-anchor="end">3</text>
<text class="tk" x="112.2" y="286.6" text-anchor="middle">0</text>
<text class="tk" x="129.6" y="286.6" text-anchor="middle">0.5</text>
<text class="tk" x="147.0" y="286.6" text-anchor="middle">1</text>
<text class="tk" x="164.4" y="286.6" text-anchor="middle">1.5</text>
<text class="tk" x="181.8" y="286.6" text-anchor="middle">2</text>
<text class="tk" x="199.1" y="286.6" text-anchor="middle">2.5</text>
<text class="tk" x="216.5" y="286.6" text-anchor="middle">3</text>
<text class="tk" x="233.9" y="286.6" text-anchor="middle">3.5</text>
<text class="tk" x="251.3" y="286.6" text-anchor="middle">4</text>
<text class="ax" x="171.1" y="298.2">width (m)</text>
<text class="ax" transform="translate(99.8,226) rotate(-90)" text-anchor="middle">height (m)</text>
<g stroke="#555" stroke-width="0.6" fill="none"><circle cx="256.5" cy="178" r="3.6"/><path d="M254.1,175.6 L258.9,180.4 M254.1,180.4 L258.9,175.6"/></g>
<clipPath id="c2"><path d="M115.2,277.0 C115.2,274.2 115.1,265.1 115.2,260.0 C115.3,254.9 115.3,250.5 115.7,246.2 C116.1,241.9 116.6,238.5 117.4,234.2 C118.2,229.9 119.5,224.5 120.8,220.5 C122.1,216.5 123.2,213.6 125.1,210.3 C127.0,207.0 129.7,203.2 132.0,200.5 C134.3,197.8 136.8,196.3 139.0,194.2 C141.2,192.0 143.1,189.6 145.5,187.6 C147.9,185.6 150.1,184.1 153.2,182.2 C156.3,180.3 160.5,177.9 164.1,176.2 C167.7,174.5 171.5,173.1 175.0,172.2 C178.5,171.3 182.0,171.1 185.0,170.9 C188.0,170.7 188.8,170.5 193.2,171.0 C197.6,171.5 205.3,172.2 211.4,174.1 C217.5,176.0 224.3,179.3 229.5,182.3 C234.7,185.3 238.7,188.5 242.3,192.3 C246.0,196.1 248.8,200.5 251.4,205.0 C254.0,209.5 256.0,214.5 257.7,219.5 C259.4,224.5 260.4,229.9 261.4,235.0 C262.4,240.1 263.2,245.0 263.8,250.0 C264.4,255.0 264.8,260.5 265.0,265.0 C265.2,269.5 265.2,275.0 265.3,277.0 L250.0,277.8 L230.0,278.3 L200.0,278.0 L150.0,277.8Z"/></clipPath>
<g clip-path="url(#c2)"><g filter="url(#bl)">
<path d="M115.2,277.0 C115.2,274.2 115.1,265.1 115.2,260.0 C115.3,254.9 115.3,250.5 115.7,246.2 C116.1,241.9 116.6,238.5 117.4,234.2 C118.2,229.9 119.5,224.5 120.8,220.5 C122.1,216.5 123.2,213.6 125.1,210.3 C127.0,207.0 129.7,203.2 132.0,200.5 C134.3,197.8 136.8,196.3 139.0,194.2 C141.2,192.0 143.1,189.6 145.5,187.6 C147.9,185.6 150.1,184.1 153.2,182.2 C156.3,180.3 160.5,177.9 164.1,176.2 C167.7,174.5 171.5,173.1 175.0,172.2 C178.5,171.3 182.0,171.1 185.0,170.9 C188.0,170.7 188.8,170.5 193.2,171.0 C197.6,171.5 205.3,172.2 211.4,174.1 C217.5,176.0 224.3,179.3 229.5,182.3 C234.7,185.3 238.7,188.5 242.3,192.3 C246.0,196.1 248.8,200.5 251.4,205.0 C254.0,209.5 256.0,214.5 257.7,219.5 C259.4,224.5 260.4,229.9 261.4,235.0 C262.4,240.1 263.2,245.0 263.8,250.0 C264.4,255.0 264.8,260.5 265.0,265.0 C265.2,269.5 265.2,275.0 265.3,277.0 L250.0,277.8 L230.0,278.3 L200.0,278.0 L150.0,277.8Z" fill="#00ff00" stroke="#00d8ff" stroke-width="2.2"/>
<path d="M100,290 L100,276.3 L190,276.3 L200,274.5 L212.7,268 L225.5,264.8 L238.2,261 L248.4,256.5 L257.3,252.7 L262.4,251.5 L275,250 L275,290Z" fill="#00ff88"/><path d="M100,290 L100,276.8 L195,276.8 L205,275 L212.7,272.5 L225.5,269.3 L238.2,266.7 L250.9,262.9 L259.8,259.1 L275,256 L275,290Z" fill="#00ffcc"/><path d="M100,290 L100,277 L200,276 L225.5,273.7 L244.5,272.5 L257.3,269.3 L262.4,265.5 L275,262 L275,290Z" fill="#00eaff"/><path d="M263.2,240 L263.2,290 L275,290 L275,240Z" fill="#0060ff"/><path d="M100,277.8 L200,277.8 L210,276.5 L275,276.5 L275,290 L100,290Z" fill="#0090ff"/>
<path d="M121.5,271.5 C117.5,269.4 120.8,264.4 120.9,260.0 C121.0,255.6 121.5,250.0 122.0,245.0 C122.5,240.0 123.0,234.3 123.8,230.0 C124.5,225.7 125.4,222.7 126.5,219.0 C127.6,215.3 129.0,210.7 130.3,208.0 C131.7,205.3 132.8,205.0 134.6,202.9 C136.4,200.8 139.0,197.7 141.2,195.3 C143.4,192.9 145.1,190.7 147.7,188.7 C150.2,186.7 153.8,184.8 156.5,183.3 C159.2,181.9 161.0,181.1 164.1,180.0 C167.2,178.9 172.0,177.1 175.0,177.0 C178.0,176.9 179.9,178.2 182.3,179.5 C184.7,180.8 186.2,182.9 189.5,185.0 C192.8,187.1 201.1,190.3 202.3,192.3 C203.5,194.3 199.2,195.0 196.8,196.8 C194.4,198.6 190.0,200.9 187.7,203.2 C185.4,205.5 183.8,207.8 183.2,210.5 C182.6,213.2 182.4,216.5 184.1,219.5 C185.8,222.5 190.5,225.8 193.2,228.6 C195.9,231.3 198.5,232.5 200.2,236.0 C201.8,239.5 202.6,244.8 203.1,249.4 C203.6,254.1 204.1,260.3 203.1,263.9 C202.1,267.5 203.1,269.8 197.3,271.2 C191.5,272.6 176.9,272.3 168.2,272.6 C159.5,272.9 152.7,273.0 144.9,272.8 C137.1,272.6 125.5,273.6 121.5,271.5Z" fill="#a8ff00"/>
<path d="M123.5,271.0 C118.4,269.1 123.0,264.3 123.1,260.0 C123.2,255.7 123.6,250.0 124.0,245.0 C124.4,240.0 124.5,234.3 125.3,230.0 C126.0,225.7 127.1,222.7 128.5,219.0 C129.9,215.3 132.1,210.5 133.5,208.0 C134.9,205.5 135.5,205.8 136.8,204.0 C138.1,202.2 139.3,199.7 141.5,197.5 C143.7,195.3 147.1,192.9 149.9,190.9 C152.8,188.9 155.9,186.9 158.6,185.5 C161.3,184.1 163.6,183.1 166.3,182.2 C169.0,181.3 172.6,179.5 175.0,180.0 C177.4,180.5 179.1,183.2 180.5,185.0 C181.9,186.8 183.2,188.4 183.2,190.5 C183.2,192.6 181.9,195.6 180.5,197.7 C179.1,199.8 176.8,200.9 175.0,203.0 C173.2,205.1 171.3,207.2 170.0,210.0 C168.7,212.8 167.2,216.5 167.0,220.0 C166.8,223.5 166.0,227.1 169.0,231.0 C172.0,234.9 180.7,239.9 185.0,243.5 C189.3,247.1 193.4,249.1 195.0,252.3 C196.6,255.5 196.5,259.7 194.4,262.5 C192.3,265.3 189.5,267.5 182.7,269.0 C175.9,270.5 163.5,271.2 153.6,271.5 C143.7,271.8 128.6,272.9 123.5,271.0Z" fill="#ffff00"/>
<path d="M126.5,270.0 C124.2,268.2 126.0,264.2 126.0,260.0 C126.0,255.8 126.2,250.0 126.5,245.0 C126.8,240.0 126.8,234.5 127.5,230.0 C128.2,225.5 129.1,221.7 130.5,218.0 C131.9,214.3 134.0,211.0 136.0,208.0 C138.0,205.0 140.2,202.5 142.7,200.0 C145.2,197.5 148.3,194.9 151.0,193.1 C153.7,191.3 155.9,190.0 158.6,189.3 C161.3,188.6 165.2,188.4 167.4,188.7 C169.6,189.0 171.6,189.3 171.7,190.9 C171.8,192.5 169.6,195.5 168.0,198.0 C166.4,200.5 163.5,203.2 162.0,206.0 C160.5,208.8 159.7,211.8 159.0,215.0 C158.3,218.2 157.2,221.7 158.0,225.0 C158.8,228.3 160.3,231.2 164.0,234.8 C167.7,238.4 176.1,243.1 180.0,246.5 C183.9,249.9 186.8,252.1 187.5,255.2 C188.2,258.3 188.6,262.5 184.0,265.0 C179.4,267.5 167.3,269.1 160.0,270.0 C152.7,270.9 145.6,270.5 140.0,270.5 C134.4,270.5 128.8,271.8 126.5,270.0Z" fill="#ffd400"/>
<path d="M130.5,268.0 C127.2,266.6 130.3,263.8 130.4,260.0 C130.5,256.2 130.6,250.0 130.8,245.0 C131.0,240.0 131.1,234.5 131.8,230.0 C132.5,225.5 133.6,221.7 135.0,218.0 C136.4,214.3 137.9,211.0 140.0,208.0 C142.1,205.0 145.8,201.9 147.8,200.0 C149.8,198.1 150.5,197.5 152.1,196.5 C153.7,195.5 156.4,194.1 157.5,194.2 C158.6,194.3 158.5,195.2 158.6,197.0 C158.7,198.8 158.6,202.0 158.0,205.0 C157.4,208.0 156.0,210.8 155.0,215.0 C154.0,219.2 152.0,225.8 152.2,230.0 C152.4,234.2 153.4,236.7 156.0,240.0 C158.6,243.3 164.7,247.2 168.0,250.0 C171.3,252.8 174.3,255.0 176.0,257.0 C177.7,259.0 179.4,260.3 178.4,262.0 C177.4,263.7 174.7,265.9 170.0,267.0 C165.3,268.1 156.6,268.3 150.0,268.5 C143.4,268.7 133.8,269.4 130.5,268.0Z" fill="#ffa800"/>
<path d="M133.5,264.0 C131.6,262.2 133.3,258.2 133.3,255.0 C133.3,251.8 133.1,249.2 133.5,245.0 C133.9,240.8 134.8,234.2 135.5,230.0 C136.2,225.8 136.9,223.0 138.0,220.0 C139.1,217.0 140.6,214.2 142.0,212.0 C143.4,209.8 145.2,207.0 146.2,207.0 C147.2,207.0 147.9,209.5 148.0,212.0 C148.1,214.5 147.3,219.0 147.0,222.0 C146.7,225.0 145.9,227.0 146.4,230.0 C146.9,233.0 148.1,236.7 150.0,240.0 C151.9,243.3 155.0,247.2 158.0,250.0 C161.0,252.8 166.3,255.0 168.0,257.0 C169.7,259.0 169.5,260.6 168.2,262.0 C166.9,263.4 163.9,264.8 160.0,265.5 C156.1,266.2 149.4,266.2 145.0,266.0 C140.6,265.8 135.4,265.8 133.5,264.0Z" fill="#ff8800"/>
<ellipse cx="147.8" cy="259.5" rx="4.2" ry="2.6" transform="rotate(20 147.8 259.5)" fill="#ff5a00"/>

</g></g>
<circle cx="187" cy="178.8" r="2" fill="#fff"/><circle cx="225.1" cy="188.8" r="0.9" fill="#fff"/>
<path d="M166.8,278.5 C168,276 168.5,273.2 169.5,273.2 C170.5,273.2 171,276 172.2,278.5Z" fill="#fff"/><path d="M194.2,278.5 C195.3,276 195.6,273.2 196.4,273.2 C197.2,273.2 197.5,276 198.6,278.5Z" fill="#fff"/>
<text class="tk" x="108.0" y="445.1" text-anchor="end">0</text>
<text class="tk" x="108.0" y="427.8" text-anchor="end">0.5</text>
<text class="tk" x="108.0" y="410.5" text-anchor="end">1</text>
<text class="tk" x="108.0" y="393.2" text-anchor="end">1.5</text>
<text class="tk" x="108.0" y="375.9" text-anchor="end">2</text>
<text class="tk" x="108.0" y="358.6" text-anchor="end">2.5</text>
<text class="tk" x="108.0" y="341.3" text-anchor="end">3</text>
<text class="tk" x="110.9" y="448.6" text-anchor="middle">0</text>
<text class="tk" x="128.7" y="448.6" text-anchor="middle">0.5</text>
<text class="tk" x="146.4" y="448.6" text-anchor="middle">1</text>
<text class="tk" x="164.2" y="448.6" text-anchor="middle">1.5</text>
<text class="tk" x="181.9" y="448.6" text-anchor="middle">2</text>
<text class="tk" x="199.7" y="448.6" text-anchor="middle">2.5</text>
<text class="tk" x="217.5" y="448.6" text-anchor="middle">3</text>
<text class="tk" x="235.2" y="448.6" text-anchor="middle">3.5</text>
<text class="tk" x="253.0" y="448.6" text-anchor="middle">4</text>
<text class="ax" x="171.9" y="460.7">width (m)</text>
<text class="ax" transform="translate(97.8,383.2) rotate(-90)" text-anchor="middle">height (m)</text>
<g stroke="#555" stroke-width="0.6" fill="none"><circle cx="259.6" cy="340.4" r="3.6"/><path d="M257.20000000000005,338.0 L262.0,342.79999999999995 M257.20000000000005,342.79999999999995 L262.0,338.0"/></g>
<path d="M110.5,329.6 L268,329.6" stroke="#cfcfcf" stroke-width="0.6"/>
<clipPath id="c3"><path d="M112.2,437.0 C112.2,435.8 112.2,433.2 112.2,430.0 C112.2,426.8 112.1,421.3 112.2,418.0 C112.3,414.7 112.4,412.7 112.6,410.0 C112.8,407.3 113.2,404.7 113.6,402.0 C114.0,399.3 114.6,396.7 115.2,394.0 C115.8,391.3 116.5,388.7 117.3,386.0 C118.1,383.3 119.4,380.0 120.2,378.0 C121.0,376.0 121.2,375.5 122.0,374.0 C122.8,372.5 124.0,370.7 125.0,369.0 C126.0,367.3 126.9,365.6 128.0,364.0 C129.1,362.4 130.3,360.8 131.5,359.3 C132.7,357.8 133.6,356.6 135.0,355.0 C136.4,353.4 138.3,351.5 140.0,349.8 C141.7,348.1 143.3,346.4 145.0,345.0 C146.7,343.6 148.3,342.6 150.0,341.6 C151.7,340.6 152.5,340.1 155.0,339.0 C157.5,337.9 161.3,336.1 165.0,335.0 C168.7,333.9 172.7,332.9 177.0,332.3 C181.3,331.7 186.2,331.1 190.7,331.1 C195.2,331.1 199.9,331.4 204.0,332.3 C208.1,333.2 211.5,334.9 215.0,336.3 C218.5,337.8 221.7,338.7 225.0,341.0 C228.3,343.3 232.2,347.2 235.0,350.0 C237.8,352.8 239.8,355.2 242.0,358.0 C244.2,360.8 246.2,364.3 248.0,367.0 C249.8,369.7 251.6,371.8 253.0,374.0 C254.4,376.2 255.4,378.3 256.5,380.0 C257.6,381.7 258.3,381.2 259.4,384.4 C260.5,387.5 262.0,394.1 263.0,398.9 C264.0,403.7 264.6,408.5 265.2,413.3 C265.8,418.1 266.4,423.6 266.6,427.7 C266.8,431.8 269.4,436.0 266.6,437.9 C263.8,439.8 252.8,438.6 250.0,438.8 L225.0,439.8 L200.0,440.8 L170.0,442.0 L144.0,441.8 L126.0,440.0 L115.0,438.5Z"/></clipPath>
<g clip-path="url(#c3)"><g filter="url(#bl)">
<path d="M112.2,437.0 C112.2,435.8 112.2,433.2 112.2,430.0 C112.2,426.8 112.1,421.3 112.2,418.0 C112.3,414.7 112.4,412.7 112.6,410.0 C112.8,407.3 113.2,404.7 113.6,402.0 C114.0,399.3 114.6,396.7 115.2,394.0 C115.8,391.3 116.5,388.7 117.3,386.0 C118.1,383.3 119.4,380.0 120.2,378.0 C121.0,376.0 121.2,375.5 122.0,374.0 C122.8,372.5 124.0,370.7 125.0,369.0 C126.0,367.3 126.9,365.6 128.0,364.0 C129.1,362.4 130.3,360.8 131.5,359.3 C132.7,357.8 133.6,356.6 135.0,355.0 C136.4,353.4 138.3,351.5 140.0,349.8 C141.7,348.1 143.3,346.4 145.0,345.0 C146.7,343.6 148.3,342.6 150.0,341.6 C151.7,340.6 152.5,340.1 155.0,339.0 C157.5,337.9 161.3,336.1 165.0,335.0 C168.7,333.9 172.7,332.9 177.0,332.3 C181.3,331.7 186.2,331.1 190.7,331.1 C195.2,331.1 199.9,331.4 204.0,332.3 C208.1,333.2 211.5,334.9 215.0,336.3 C218.5,337.8 221.7,338.7 225.0,341.0 C228.3,343.3 232.2,347.2 235.0,350.0 C237.8,352.8 239.8,355.2 242.0,358.0 C244.2,360.8 246.2,364.3 248.0,367.0 C249.8,369.7 251.6,371.8 253.0,374.0 C254.4,376.2 255.4,378.3 256.5,380.0 C257.6,381.7 258.3,381.2 259.4,384.4 C260.5,387.5 262.0,394.1 263.0,398.9 C264.0,403.7 264.6,408.5 265.2,413.3 C265.8,418.1 266.4,423.6 266.6,427.7 C266.8,431.8 269.4,436.0 266.6,437.9 C263.8,439.8 252.8,438.6 250.0,438.8 L225.0,439.8 L200.0,440.8 L170.0,442.0 L144.0,441.8 L126.0,440.0 L115.0,438.5Z" fill="#00ff00" stroke="#00d8ff" stroke-width="2.2"/>
<path d="M100,450 L100,436 L115,437 L126,438.6 L144,440.4 L170,440.6 L200,439.4 L225,438.4 L250,437.4 L270,436.6 L270,450Z" fill="#00f0ff"/><path d="M100,417 L112.6,417 L114.4,436.8 L100,436.8Z" fill="#0030ff"/><path d="M264.6,412 L263.8,437.9 L275,437.9 L275,412Z" fill="#0030ff"/><path d="M262,412 L261.5,437.9 L263.8,437.9 L264.6,412Z" fill="#00e0ff"/>
<path d="M118.7,426.0 C118.5,423.7 118.5,420.7 118.7,418.0 C119.0,415.3 119.1,412.7 120.2,410.0 C121.3,407.3 123.7,404.7 125.3,402.0 C126.9,399.3 128.8,396.7 130.0,394.0 C131.2,391.3 131.6,388.7 132.5,386.0 C133.4,383.3 134.0,380.7 135.5,378.0 C137.0,375.3 139.4,372.7 141.3,370.0 C143.2,367.3 144.0,364.2 147.1,362.0 C150.2,359.8 156.0,358.3 160.0,357.0 C164.0,355.7 167.1,354.8 171.0,354.0 C174.9,353.2 179.3,352.1 183.6,352.5 C187.9,352.9 191.9,355.9 196.9,356.5 C201.9,357.1 208.9,355.6 213.7,356.1 C218.5,356.6 222.2,358.5 225.5,359.5 C228.8,360.5 231.5,360.2 233.6,362.0 C235.7,363.8 236.1,367.3 238.0,370.0 C239.9,372.7 243.9,375.3 245.3,378.0 C246.8,380.7 245.7,383.3 246.7,386.0 C247.7,388.7 250.4,391.3 251.1,394.0 C251.8,396.7 251.5,399.3 251.1,402.0 C250.7,404.7 249.3,407.3 248.5,410.0 C247.7,412.7 246.6,415.9 246.0,418.0 C245.4,420.1 245.9,421.0 245.0,422.6 C244.1,424.2 242.9,426.2 240.7,427.7 C238.5,429.2 235.4,430.4 231.8,431.5 C228.2,432.6 224.3,433.2 219.0,434.0 C213.7,434.8 208.2,435.6 200.0,436.0 C191.8,436.4 179.3,436.4 170.0,436.5 C160.7,436.6 151.3,436.8 144.0,436.5 C136.7,436.2 130.0,435.8 126.0,435.0 C122.0,434.2 121.2,433.5 120.0,432.0 C118.8,430.5 118.9,428.3 118.7,426.0Z" fill="#a8ff00"/>
<path d="M125.3,418.0 C125.5,415.0 126.2,412.7 127.5,410.0 C128.8,407.3 131.8,404.7 133.3,402.0 C134.8,399.3 135.5,396.7 136.5,394.0 C137.5,391.3 137.9,388.7 139.1,386.0 C140.3,383.3 142.1,380.7 143.5,378.0 C144.9,375.3 145.6,372.7 147.8,370.0 C150.0,367.3 153.6,363.6 156.5,362.0 C159.4,360.4 161.1,360.5 165.0,360.5 C168.9,360.5 175.8,361.2 180.0,362.0 C184.2,362.8 185.8,364.8 190.0,365.5 C194.2,366.2 200.0,365.9 205.0,366.0 C210.0,366.1 216.4,365.7 220.0,366.4 C223.6,367.1 224.4,368.1 226.4,370.0 C228.4,371.9 230.1,375.3 232.0,378.0 C233.9,380.7 236.5,383.3 238.0,386.0 C239.5,388.7 240.4,391.3 240.9,394.0 C241.4,396.7 241.4,399.3 240.9,402.0 C240.4,404.7 238.4,406.6 238.0,410.0 C237.6,413.4 240.3,419.7 238.2,422.6 C236.1,425.6 229.8,426.4 225.5,427.7 C221.2,429.0 216.9,429.4 212.7,430.3 C208.4,431.2 207.1,432.3 200.0,432.8 C192.9,433.3 179.3,433.6 170.0,433.5 C160.7,433.4 150.7,432.6 144.0,432.3 C137.3,432.0 132.9,432.2 130.0,431.5 C127.1,430.8 127.3,430.2 126.5,428.0 C125.7,425.8 125.1,421.0 125.3,418.0Z" fill="#ffff00"/>
<path d="M137.6,418.0 C137.0,415.7 136.0,412.7 136.5,410.0 C137.0,407.3 139.3,404.7 140.5,402.0 C141.7,399.3 142.5,396.7 143.8,394.0 C145.1,391.3 146.5,388.7 148.5,386.0 C150.5,383.3 153.6,379.7 155.8,378.0 C158.1,376.3 159.3,376.5 162.0,376.0 C164.7,375.5 168.4,375.3 172.0,375.0 C175.6,374.7 179.4,374.2 183.6,374.3 C187.8,374.4 191.9,375.1 196.9,375.5 C201.9,375.9 209.8,376.0 213.7,376.4 C217.6,376.8 218.2,376.4 220.5,378.0 C222.8,379.6 226.2,383.3 227.8,386.0 C229.4,388.7 229.8,391.3 230.0,394.0 C230.2,396.7 230.1,399.3 229.3,402.0 C228.6,404.7 228.4,407.3 225.5,410.0 C222.6,412.7 217.7,415.8 211.8,418.0 C205.9,420.2 197.3,421.6 190.0,423.0 C182.7,424.4 174.7,425.9 168.0,426.2 C161.3,426.5 154.7,425.4 150.0,425.0 C145.3,424.6 142.1,425.2 140.0,424.0 C137.9,422.8 138.2,420.3 137.6,418.0Z" fill="#ffc800"/>
<path d="M158.0,402.0 C158.1,399.8 158.8,396.2 159.5,394.0 C160.2,391.8 160.1,390.2 162.0,389.0 C163.9,387.8 167.5,387.0 171.0,386.5 C174.5,386.0 179.2,385.8 183.0,386.0 C186.8,386.2 190.7,387.2 193.5,388.0 C196.3,388.8 198.7,390.0 200.0,391.0 C201.3,392.0 201.9,392.7 201.6,394.0 C201.3,395.3 199.2,397.7 198.0,399.0 C196.8,400.3 196.6,401.0 194.4,402.0 C192.2,403.0 188.2,403.8 185.0,405.0 C181.8,406.2 178.7,408.0 175.0,409.0 C171.3,410.0 165.7,411.3 163.0,411.0 C160.3,410.7 159.8,408.5 159.0,407.0 C158.2,405.5 157.9,404.2 158.0,402.0Z" fill="#ffa000"/>

</g></g>
<circle cx="183.4" cy="341.8" r="2" fill="#fff"/><circle cx="215.9" cy="343.8" r="1" fill="#fff"/>
<path d="M148.5,443 C149.8,441.5 150.2,439.8 150.9,439.8 C151.6,439.8 152,441.5 153.3,443Z" fill="#fff"/><path d="M174.7,443 C176,441.5 176.4,439.8 177.1,439.8 C177.8,439.8 178.2,441.5 179.5,443Z" fill="#fff"/>
<g filter="url(#bl2)">
<path d="M404.2,19.4 410.2,19.8 422.6,23.2 431.4,23.8 445.0,29.4 453.8,27.2 454.2,27.3 456.2,28.2 465.9,35.0 468.0,38.2 468.8,43.8 472.6,49.8 476.2,61.0 476.5,63.8 476.5,69.8 477.5,79.8 477.6,84.2 477.2,90.2 477.3,101.8 469.0,111.7 468.6,111.9 449.8,111.9 441.0,112.3 419.0,112.3 409.4,112.8 357.4,112.6 346.6,102.6 346.4,102.2 346.4,99.8 346.9,82.6 347.9,75.8 348.0,71.0 348.3,69.0 350.1,61.8 353.5,54.2 355.0,51.7 360.7,43.8 362.2,41.4 365.4,37.6 368.6,35.0 371.0,33.9 385.4,23.8 391.0,21.3 399.0,19.7 403.9,19.4ZM399.2,22.6 393.4,23.7 390.2,25.1 367.4,40.9 366.1,42.2 356.3,56.2 353.5,62.6 352.1,67.8 351.8,69.8 351.6,77.4 350.8,82.6 350.5,101.8 359.4,110.1 407.4,110.3 421.4,109.7 439.0,109.7 451.8,109.1 467.0,109.1 473.9,101.0 473.8,91.8 474.5,83.4 474.4,79.4 473.6,71.4 473.6,62.2 473.3,60.2 470.4,51.0 467.3,46.2 466.3,37.8 464.7,35.4 457.4,30.2 455.8,29.5 455.4,29.5 443.0,32.7 442.2,32.8 431.4,28.4 424.2,27.8 405.8,22.8 402.2,22.4 399.4,22.6Z" fill="#f6f6f6"/>
<path d="M399.4,22.6 402.2,22.4 405.8,22.8 424.2,27.8 431.4,28.4 442.2,32.8 443.0,32.7 455.4,29.5 455.8,29.5 457.4,30.2 464.7,35.4 466.3,37.8 467.3,46.2 470.4,51.0 473.3,60.2 473.6,62.2 473.6,71.4 474.4,79.4 474.5,83.4 473.8,91.8 473.9,101.0 467.0,109.1 451.8,109.1 439.0,109.7 421.4,109.7 407.4,110.3 359.4,110.1 350.5,101.8 350.8,82.6 351.6,77.4 351.8,69.8 352.1,67.8 353.5,62.6 356.3,56.2 366.1,42.2 367.4,40.9 390.2,25.1 393.4,23.7 399.2,22.6ZM397.0,25.8 395.8,26.1 394.6,26.6 383.2,34.6 373.2,43.8 367.4,46.7 359.0,58.4 356.8,63.4 355.6,68.6 355.3,78.6 354.8,82.6 354.6,85.8 354.5,99.8 354.6,101.4 361.0,107.4 361.4,107.5 405.4,107.9 423.4,107.0 437.4,107.0 454.2,106.2 465.4,106.2 470.5,100.2 470.4,93.4 471.3,82.2 471.3,79.4 470.6,73.0 470.6,61.0 470.5,59.4 468.2,52.1 465.8,48.3 464.6,37.4 463.5,35.8 458.6,32.3 457.4,31.7 439.8,36.3 431.4,32.9 425.8,32.4 401.4,25.7 399.8,25.5 397.4,25.7Z" fill="#eeeeee"/>
<path d="M397.4,25.7 399.8,25.5 401.4,25.7 425.8,32.4 431.4,32.9 439.8,36.3 457.4,31.7 458.6,32.3 463.5,35.8 464.6,37.4 465.8,48.3 468.2,52.1 470.5,59.4 470.6,61.0 470.6,73.0 471.3,79.4 471.3,82.2 470.4,93.4 470.5,100.2 465.4,106.2 454.2,106.2 437.4,107.0 423.4,107.0 405.4,107.9 361.4,107.5 361.0,107.4 354.6,101.4 354.5,99.8 354.6,85.8 354.8,82.6 355.3,78.6 355.6,68.6 356.8,63.4 359.0,58.4 367.4,46.7 373.2,43.8 383.2,34.6 394.6,26.6 395.8,26.1 397.0,25.8ZM398.9,30.2 397.8,30.3 380.6,46.2 367.4,52.8 361.7,60.6 360.3,63.8 359.4,67.4 359.1,79.8 358.7,82.6 358.6,85.0 358.5,100.6 358.8,101.0 363.0,104.9 363.4,105.0 403.0,105.4 425.8,104.3 435.4,104.3 456.6,103.3 463.8,103.3 467.1,99.4 467.0,95.0 468.2,81.0 468.2,79.0 467.7,74.6 467.6,58.2 466.1,53.4 464.4,50.6 462.8,37.0 462.3,36.2 459.8,34.3 459.0,34.0 437.0,39.7 431.4,37.4 427.4,37.0 402.2,30.1 401.4,29.9 399.0,30.2Z" fill="#e4e4e4"/>
<path d="M399.0,30.2 401.4,29.9 402.2,30.1 427.4,37.0 431.4,37.4 437.0,39.7 459.0,34.0 459.8,34.3 462.3,36.2 462.8,37.0 464.4,50.6 466.1,53.4 467.6,58.2 467.7,74.6 468.2,79.0 468.2,81.0 467.0,95.0 467.1,99.4 463.8,103.3 456.6,103.3 435.4,104.3 425.8,104.3 403.0,105.4 363.4,105.0 363.0,104.9 358.8,101.0 358.5,100.6 358.6,85.0 358.7,82.6 359.1,79.8 359.4,67.4 360.3,63.8 361.7,60.6 367.4,52.8 380.6,46.2 397.8,30.3 398.9,30.2ZM459.3,36.6 434.6,43.1 431.4,41.9 429.0,41.6 415.0,37.8 397.8,39.7 388.6,48.2 367.4,58.8 364.3,63.0 363.6,64.6 363.3,66.2 362.8,81.4 362.6,83.8 362.5,99.8 362.6,100.2 364.7,102.2 365.4,102.4 395.4,102.9 401.0,102.9 427.8,101.7 433.8,101.6 462.2,100.4 463.6,98.6 463.6,96.6 465.1,79.8 464.8,75.8 464.8,57.8 463.9,54.6 462.8,52.6 461.1,36.6 460.6,36.3 459.4,36.6Z" fill="#d8d8d8"/>
<path d="M459.4,36.6 460.6,36.3 461.1,36.6 462.8,52.6 463.9,54.6 464.8,57.8 464.8,75.8 465.1,79.8 463.6,96.6 463.6,98.6 462.2,100.4 433.8,101.6 427.8,101.7 401.0,102.9 395.4,102.9 365.4,102.4 364.7,102.2 362.6,100.2 362.5,99.8 362.6,83.8 362.8,81.4 363.3,66.2 363.6,64.6 364.3,63.0 367.4,58.8 388.6,48.2 397.8,39.7 415.0,37.8 429.0,41.6 431.4,41.9 434.6,43.1 459.3,36.6Z" fill="#c6c6c6"/>
<path d="M363.5,98.5 L363.5,62 L367,60.8 L383.4,47.7 L396.5,45.5 L427,45.5 L451,47.7 L462,52 L464,60 L464,97 L458,99.5 L417.3,98.5 L396.9,101 L367.8,101Z" fill="#a8a8a8"/>
<path d="M381.5,79 L381.5,72 L385,64 L392,58.5 L399,56.9 L420,55.5 L439.8,61 L448.7,71.5 L443.6,83 L425,88 L415,91.5 L399,90.5 L390.3,84.7Z" fill="#909090"/>
</g>

<path d="M338.4,117.7 C338.4,114.8 338.3,105.9 338.4,100.0 C338.5,94.1 338.6,87.2 339.0,82.2 C339.4,77.2 340.1,73.7 340.8,70.1 C341.5,66.5 342.1,63.9 343.3,60.5 C344.5,57.1 346.3,53.0 348.1,49.6 C349.9,46.2 351.8,43.2 354.1,40.0 C356.4,36.8 359.2,33.3 362.0,30.5 C364.8,27.7 367.0,25.6 370.9,23.3 C374.8,21.0 380.6,18.3 385.5,16.7 C390.4,15.1 395.9,14.4 400.0,13.8 C404.1,13.2 404.7,13.0 410.0,13.2 C415.3,13.4 424.5,13.4 431.8,15.2 C439.1,17.0 447.5,20.8 453.6,23.9 C459.7,27.0 464.3,30.2 468.2,34.1 C472.1,38.0 474.6,42.4 476.9,47.2 C479.2,52.1 480.9,57.7 482.0,63.2 C483.1,68.7 483.4,73.9 483.8,80.0 C484.2,86.1 484.1,93.7 484.2,100.0 C484.3,106.3 484.2,114.8 484.2,117.7" fill="none" stroke="#222" stroke-width="0.9"/>
<path d="M338.4,117.7 L484.2,117.7" stroke="#333" stroke-width="0.9"/>
<circle cx="431.2" cy="20.1" r="1.4" fill="#000"/>
<text x="431.2" y="17.8" text-anchor="middle" style="font-family:Liberation Sans,sans-serif;font-size:4.1px;font-weight:bold" fill="#000">0.297</text>
<circle cx="397.8" cy="27.7" r="1.4" fill="#000"/>
<text x="397.8" y="25.4" text-anchor="middle" style="font-family:Liberation Sans,sans-serif;font-size:4.1px;font-weight:bold" fill="#000">1.18</text>
<circle cx="367.2" cy="42.2" r="1.4" fill="#000"/>
<text x="367.2" y="39.9" text-anchor="middle" style="font-family:Liberation Sans,sans-serif;font-size:4.1px;font-weight:bold" fill="#000">0.81</text>
<circle cx="460.9" cy="36.4" r="1.4" fill="#000"/>
<text x="460.9" y="34.1" text-anchor="middle" style="font-family:Liberation Sans,sans-serif;font-size:4.1px;font-weight:bold" fill="#000">1.52</text>
<circle cx="397.8" cy="51" r="1.4" fill="#000"/>
<text x="397.8" y="48.7" text-anchor="middle" style="font-family:Liberation Sans,sans-serif;font-size:4.1px;font-weight:bold" fill="#000">1.80</text>
<circle cx="431.2" cy="47.2" r="1.4" fill="#000"/>
<text x="431.2" y="44.9" text-anchor="middle" style="font-family:Liberation Sans,sans-serif;font-size:4.1px;font-weight:bold" fill="#000">1.8</text>
<circle cx="460.9" cy="55.9" r="1.4" fill="#000"/>
<text x="460.9" y="53.6" text-anchor="middle" style="font-family:Liberation Sans,sans-serif;font-size:4.1px;font-weight:bold" fill="#000">1.83</text>
<circle cx="367.2" cy="65.2" r="1.4" fill="#000"/>
<text x="367.2" y="62.9" text-anchor="middle" style="font-family:Liberation Sans,sans-serif;font-size:4.1px;font-weight:bold" fill="#000">1.76</text>
<circle cx="397.8" cy="73.9" r="1.4" fill="#000"/>
<text x="397.8" y="71.6" text-anchor="middle" style="font-family:Liberation Sans,sans-serif;font-size:4.1px;font-weight:bold" fill="#000">2.26</text>
<circle cx="431.2" cy="71.3" r="1.4" fill="#000"/>
<text x="431.2" y="69.0" text-anchor="middle" style="font-family:Liberation Sans,sans-serif;font-size:4.1px;font-weight:bold" fill="#000">2.14</text>
<circle cx="460.9" cy="78.3" r="1.4" fill="#000"/>
<text x="460.9" y="76.0" text-anchor="middle" style="font-family:Liberation Sans,sans-serif;font-size:4.1px;font-weight:bold" fill="#000">1.83</text>
<circle cx="367.2" cy="83" r="1.4" fill="#000"/>
<text x="367.2" y="80.7" text-anchor="middle" style="font-family:Liberation Sans,sans-serif;font-size:4.1px;font-weight:bold" fill="#000">1.79</text>
<circle cx="367.2" cy="99.5" r="1.4" fill="#000"/>
<text x="367.2" y="97.2" text-anchor="middle" style="font-family:Liberation Sans,sans-serif;font-size:4.1px;font-weight:bold" fill="#000">1.79</text>
<circle cx="397.8" cy="99.5" r="1.4" fill="#000"/>
<text x="397.8" y="97.2" text-anchor="middle" style="font-family:Liberation Sans,sans-serif;font-size:4.1px;font-weight:bold" fill="#000">1.85</text>
<circle cx="431.2" cy="98.1" r="1.4" fill="#000"/>
<text x="431.2" y="95.8" text-anchor="middle" style="font-family:Liberation Sans,sans-serif;font-size:4.1px;font-weight:bold" fill="#000">1.83</text>
<circle cx="460.9" cy="98.1" r="1.4" fill="#000"/>
<text x="460.9" y="95.8" text-anchor="middle" style="font-family:Liberation Sans,sans-serif;font-size:4.1px;font-weight:bold" fill="#000">1.7</text>
<text class="tk" x="373.6" y="112.6" text-anchor="middle" style="font-size:3.2px" fill="#555">0.5</text>
<text class="tk" x="380.9" y="110.3" text-anchor="middle" style="font-size:3.2px" fill="#555">0.75</text>
<text class="tk" x="398.4" y="105.4" text-anchor="middle" style="font-size:3.2px" fill="#555">1.25</text>
<text class="tk" x="408.5" y="102.5" text-anchor="middle" style="font-size:3.2px" fill="#555">1.5</text>
<text class="tk" x="417.3" y="98.7" text-anchor="middle" style="font-size:3.2px" fill="#555">1.75</text>
<text class="tk" x="335.4" y="119.1" text-anchor="middle">0</text>
<text class="tk" x="335.4" y="103.3" text-anchor="middle">0.5</text>
<text class="tk" x="335.4" y="87.5" text-anchor="middle">1</text>
<text class="tk" x="335.4" y="71.7" text-anchor="middle">1.5</text>
<text class="tk" x="335.4" y="55.9" text-anchor="middle">2</text>
<text class="tk" x="335.4" y="40.1" text-anchor="middle">2.5</text>
<text class="tk" x="335.4" y="24.3" text-anchor="middle">3</text>
<text class="tk" x="339.3" y="123.1" text-anchor="middle">0</text>
<text class="tk" x="355.5" y="123.1" text-anchor="middle">0.5</text>
<text class="tk" x="371.7" y="123.1" text-anchor="middle">1</text>
<text class="tk" x="387.9" y="123.1" text-anchor="middle">1.5</text>
<text class="tk" x="404.1" y="123.1" text-anchor="middle">2</text>
<text class="tk" x="420.3" y="123.1" text-anchor="middle">2.5</text>
<text class="tk" x="436.5" y="123.1" text-anchor="middle">3</text>
<text class="tk" x="452.7" y="123.1" text-anchor="middle">3.5</text>
<text class="tk" x="468.9" y="123.1" text-anchor="middle">4</text>
<text class="ax2" x="399.8" y="131.5">width (m)</text>
<text class="ax2" transform="translate(328.2,62.5) rotate(-90)" text-anchor="middle">height (m)</text>
<g stroke="#444" stroke-width="0.6" fill="none"><circle cx="474" cy="22.5" r="4"/><path d="M471.3,19.8 L476.7,25.2 M471.3,25.2 L476.7,19.8"/></g>
<rect x="497.2" y="23.40" width="6.0" height="10.71" fill="#7c7c7c"/>
<rect x="497.2" y="33.81" width="6.0" height="10.71" fill="#929292"/>
<rect x="497.2" y="44.23" width="6.0" height="10.71" fill="#aaaaaa"/>
<rect x="497.2" y="54.64" width="6.0" height="10.71" fill="#c4c4c4"/>
<rect x="497.2" y="65.05" width="6.0" height="10.71" fill="#d4d4d4"/>
<rect x="497.2" y="75.46" width="6.0" height="10.71" fill="#e2e2e2"/>
<rect x="497.2" y="85.88" width="6.0" height="10.71" fill="#ececec"/>
<rect x="497.2" y="96.29" width="6.0" height="10.71" fill="#f3f3f3"/>
<text class="tk" x="504.5" y="24.60" style="font-size:3.2px">2.5</text>
<text class="tk" x="504.5" y="35.01" style="font-size:3.2px">2.25</text>
<text class="tk" x="504.5" y="45.43" style="font-size:3.2px">2</text>
<text class="tk" x="504.5" y="55.84" style="font-size:3.2px">1.75</text>
<text class="tk" x="504.5" y="66.25" style="font-size:3.2px">1.5</text>
<text class="tk" x="504.5" y="76.66" style="font-size:3.2px">1.25</text>
<text class="tk" x="504.5" y="87.08" style="font-size:3.2px">1</text>
<text class="tk" x="504.5" y="97.49" style="font-size:3.2px">0.75</text>
<text class="tk" x="504.5" y="107.90" style="font-size:3.2px">0.5</text>
<text class="ax" x="521.2" y="64.0" text-anchor="middle" style="font-size:8px">V</text>
<text class="ax" x="520.7" y="71.0" text-anchor="middle" style="font-size:7.8px">(m/s)</text>
<g filter="url(#bl2)">
<path d="M398.7,175.4 402.3,175.0 407.5,175.2 419.5,176.2 423.5,176.3 432.7,177.7 439.9,180.2 443.9,182.2 457.5,191.0 462.3,194.4 469.0,201.8 470.5,205.4 471.7,213.8 473.8,219.4 475.2,228.6 474.9,236.6 475.2,249.4 474.5,256.6 474.5,264.2 467.5,271.8 467.1,271.9 451.5,271.9 439.9,273.1 419.5,273.1 409.5,274.1 385.9,274.1 377.9,274.7 357.5,274.7 346.2,263.4 345.9,263.0 345.8,241.0 346.1,236.2 346.0,231.8 346.3,227.0 347.5,219.4 349.9,208.2 353.3,201.0 357.1,195.8 362.7,191.1 366.7,188.5 373.1,185.7 382.5,179.4 384.7,178.5 393.9,175.9 398.6,175.4ZM400.2,177.0 394.7,177.6 387.9,179.5 386.1,180.2 371.9,189.7 366.7,192.0 363.5,194.0 359.1,197.8 355.9,202.2 353.1,208.2 350.5,220.2 349.5,226.6 349.2,230.6 349.3,237.0 349.1,241.0 349.2,262.6 358.7,272.1 359.1,272.3 376.3,272.3 387.5,271.5 407.1,271.5 421.5,270.1 437.9,270.0 455.1,268.2 465.1,268.2 465.5,268.0 469.7,263.4 469.9,263.0 469.9,258.2 470.9,247.4 470.7,238.6 471.1,227.0 470.2,220.6 468.6,216.6 466.9,203.8 466.1,201.8 462.1,197.4 459.5,195.5 440.0,183.0 436.9,181.4 431.9,179.7 425.5,178.7 422.3,178.6 405.1,177.1 400.3,177.0Z" fill="#f6f6f6"/>
<path d="M400.3,177.0 405.1,177.1 422.3,178.6 425.5,178.7 431.9,179.7 436.9,181.4 440.0,183.0 459.5,195.5 462.1,197.4 466.1,201.8 466.9,203.8 468.6,216.6 470.2,220.6 471.1,227.0 470.7,238.6 470.9,247.4 469.9,258.2 469.9,263.0 469.7,263.4 465.5,268.0 465.1,268.2 455.1,268.2 437.9,270.0 421.5,270.1 407.1,271.5 387.5,271.5 376.3,272.3 359.1,272.3 358.7,272.1 349.2,262.6 349.1,241.0 349.3,237.0 349.2,230.6 349.5,226.6 350.5,220.2 353.1,208.2 355.9,202.2 359.1,197.8 363.5,194.0 366.7,192.0 371.9,189.7 386.1,180.2 387.9,179.5 394.7,177.6 400.2,177.0ZM398.0,179.0 395.1,179.3 391.1,180.4 389.7,181.0 370.7,193.7 366.7,195.5 364.3,197.0 361.0,199.8 358.6,203.0 356.4,207.8 354.0,218.2 352.6,226.2 352.4,229.4 352.5,238.2 352.4,241.4 352.6,262.2 360.3,269.9 360.7,270.0 374.7,270.0 389.5,268.9 404.7,268.9 423.9,267.0 435.5,267.0 458.3,264.5 463.1,264.5 465.2,262.2 465.2,259.8 466.6,245.8 466.5,240.6 467.1,225.8 466.6,221.8 465.6,219.0 463.3,202.6 462.8,201.4 461.5,200.0 460.3,199.2 436.2,183.8 434.3,182.8 431.5,181.8 427.1,181.0 401.9,178.9 398.3,179.0Z" fill="#eeeeee"/>
<path d="M398.3,179.0 401.9,178.9 427.1,181.0 431.5,181.8 434.3,182.8 436.2,183.8 460.3,199.2 461.5,200.0 462.8,201.4 463.3,202.6 465.6,219.0 466.6,221.8 467.1,225.8 466.5,240.6 466.6,245.8 465.2,259.8 465.2,262.2 463.1,264.5 458.3,264.5 435.5,267.0 423.9,267.0 404.7,268.9 389.5,268.9 374.7,270.0 360.7,270.0 360.3,269.9 352.6,262.2 352.4,241.4 352.5,238.2 352.4,229.4 352.6,226.2 354.0,218.2 356.4,207.8 358.6,203.0 361.0,199.8 364.3,197.0 366.7,195.5 370.7,193.7 389.7,181.0 391.1,180.4 395.1,179.3 398.0,179.0ZM395.9,181.0 393.4,181.8 369.5,197.7 367.1,198.7 365.4,199.8 362.9,201.8 361.2,204.2 359.7,207.4 356.9,219.4 355.8,226.2 355.6,246.6 355.9,261.4 356.0,261.8 361.9,267.6 372.7,267.7 391.5,266.3 402.7,266.2 426.3,263.9 433.5,263.8 457.9,261.1 458.3,261.0 461.1,254.7 461.5,252.2 462.3,243.8 463.1,224.2 462.6,222.2 461.5,214.0 461.1,212.3 455.3,203.8 446.8,193.8 431.1,183.9 429.1,183.4 399.5,180.9 397.9,180.8 395.9,181.0Z" fill="#e4e4e4"/>
<path d="M395.9,181.0 397.9,180.8 399.5,180.9 429.1,183.4 431.1,183.9 446.8,193.8 455.3,203.8 461.1,212.3 461.5,214.0 462.6,222.2 463.1,224.2 462.3,243.8 461.5,252.2 461.1,254.7 458.3,261.0 457.9,261.1 433.5,263.8 426.3,263.9 402.7,266.2 391.5,266.3 372.7,267.7 361.9,267.6 356.0,261.8 355.9,261.4 355.6,246.6 355.8,226.2 356.9,219.4 359.7,207.4 361.2,204.2 362.9,201.8 365.4,199.8 367.1,198.7 369.5,197.7 393.4,181.8 395.9,181.0ZM395.3,185.0 393.5,185.2 392.3,185.7 368.7,201.4 365.9,202.9 364.7,204.0 363.7,205.4 363.0,207.0 359.8,220.6 358.9,225.8 358.9,245.4 359.2,261.0 363.5,265.4 370.7,265.4 393.5,263.7 400.3,263.6 428.3,260.8 431.1,260.8 439.1,259.8 441.9,253.4 442.0,253.0 439.2,238.2 441.4,231.4 448.6,219.0 441.5,208.6 429.5,194.6 421.9,190.4 396.7,184.9 395.5,185.0Z" fill="#d8d8d8"/>
<path d="M395.5,185.0 396.7,184.9 421.9,190.4 429.5,194.6 441.5,208.6 448.6,219.0 441.4,231.4 439.2,238.2 442.0,253.0 441.9,253.4 439.1,259.8 431.1,260.8 428.3,260.8 400.3,263.6 393.5,263.7 370.7,265.4 363.5,265.4 359.2,261.0 358.9,245.4 358.9,225.8 359.8,220.6 363.0,207.0 363.7,205.4 364.7,204.0 365.9,202.9 368.7,201.4 392.3,185.7 393.5,185.2 395.3,185.0Z" fill="#c6c6c6"/>
<path d="M364,262.5 L364.5,205 L367,202 L381,194 L401,201 L415,209 L421,213 L421,220 L419,226 L413,232 L412,236 L415,250 L417,257 L417,262.5 L396,263.5Z" fill="#a8a8a8"/>
<path d="M364.5,261 L364.5,217 L382,217 L382,240 L387,252 L387,258 L383,261Z" fill="#909090"/>
</g>

<path d="M339.3,279.3 C339.3,272.8 339.2,248.6 339.3,240.0 C339.4,231.4 339.6,231.7 340.0,228.0 C340.4,224.3 340.9,221.2 341.5,218.0 C342.1,214.8 342.2,212.2 343.3,209.0 C344.4,205.8 346.3,201.9 348.0,199.0 C349.7,196.1 350.9,194.2 353.5,191.5 C356.1,188.8 359.5,185.5 363.6,183.0 C367.7,180.5 373.4,178.2 378.2,176.5 C383.0,174.8 388.2,173.4 392.7,172.5 C397.2,171.6 400.4,171.3 405.0,171.2 C409.6,171.0 415.1,171.2 420.0,171.6 C424.9,172.0 429.6,172.6 434.5,173.8 C439.4,175.0 444.2,176.4 449.1,178.9 C454.0,181.4 459.2,185.2 463.6,189.1 C468.0,193.0 472.4,197.6 475.3,202.2 C478.2,206.8 479.8,211.7 481.1,216.7 C482.4,221.7 482.9,226.4 483.3,232.0 C483.8,237.6 483.7,242.1 483.8,250.0 C483.9,257.9 483.8,274.4 483.8,279.3" fill="none" stroke="#222" stroke-width="0.9"/>
<path d="M339.3,279.3 L483.8,279.3" stroke="#333" stroke-width="0.9"/>
<circle cx="396.5" cy="182.4" r="1.4" fill="#000"/>
<text x="396.5" y="180.1" text-anchor="middle" style="font-family:Liberation Sans,sans-serif;font-size:4.1px;font-weight:bold" fill="#000">1.46</text>
<circle cx="429.8" cy="184.6" r="1.4" fill="#000"/>
<text x="429.8" y="182.3" text-anchor="middle" style="font-family:Liberation Sans,sans-serif;font-size:4.1px;font-weight:bold" fill="#000">1.38</text>
<circle cx="461.3" cy="201.6" r="1.4" fill="#000"/>
<text x="461.3" y="199.3" text-anchor="middle" style="font-family:Liberation Sans,sans-serif;font-size:4.1px;font-weight:bold" fill="#000">1.14</text>
<circle cx="367" cy="206.4" r="1.4" fill="#000"/>
<text x="367" y="204.1" text-anchor="middle" style="font-family:Liberation Sans,sans-serif;font-size:4.1px;font-weight:bold" fill="#000">1.8</text>
<circle cx="396.5" cy="209.7" r="1.4" fill="#000"/>
<text x="396.5" y="207.4" text-anchor="middle" style="font-family:Liberation Sans,sans-serif;font-size:4.1px;font-weight:bold" fill="#000">1.90</text>
<circle cx="429.8" cy="212.5" r="1.4" fill="#000"/>
<text x="429.8" y="210.2" text-anchor="middle" style="font-family:Liberation Sans,sans-serif;font-size:4.1px;font-weight:bold" fill="#000">1.71</text>
<circle cx="461.3" cy="223.5" r="1.4" fill="#000"/>
<text x="461.3" y="221.2" text-anchor="middle" style="font-family:Liberation Sans,sans-serif;font-size:4.1px;font-weight:bold" fill="#000">1.36</text>
<circle cx="367" cy="224.5" r="1.4" fill="#000"/>
<text x="367" y="222.2" text-anchor="middle" style="font-family:Liberation Sans,sans-serif;font-size:4.1px;font-weight:bold" fill="#000">2.14</text>
<circle cx="396.5" cy="235.3" r="1.4" fill="#000"/>
<text x="396.5" y="233.0" text-anchor="middle" style="font-family:Liberation Sans,sans-serif;font-size:4.1px;font-weight:bold" fill="#000">1.87</text>
<circle cx="429.8" cy="236.3" r="1.4" fill="#000"/>
<text x="429.8" y="234.0" text-anchor="middle" style="font-family:Liberation Sans,sans-serif;font-size:4.1px;font-weight:bold" fill="#000">1.58</text>
<circle cx="461.3" cy="243.5" r="1.4" fill="#000"/>
<text x="461.3" y="241.2" text-anchor="middle" style="font-family:Liberation Sans,sans-serif;font-size:4.1px;font-weight:bold" fill="#000">1.31</text>
<circle cx="367" cy="242.9" r="1.4" fill="#000"/>
<text x="367" y="240.6" text-anchor="middle" style="font-family:Liberation Sans,sans-serif;font-size:4.1px;font-weight:bold" fill="#000">2.12</text>
<circle cx="367" cy="259.9" r="1.4" fill="#000"/>
<text x="367" y="257.6" text-anchor="middle" style="font-family:Liberation Sans,sans-serif;font-size:4.1px;font-weight:bold" fill="#000">2.09</text>
<circle cx="396.5" cy="259.9" r="1.4" fill="#000"/>
<text x="396.5" y="257.6" text-anchor="middle" style="font-family:Liberation Sans,sans-serif;font-size:4.1px;font-weight:bold" fill="#000">1.86</text>
<circle cx="429.8" cy="259.3" r="1.4" fill="#000"/>
<text x="429.8" y="257.0" text-anchor="middle" style="font-family:Liberation Sans,sans-serif;font-size:4.1px;font-weight:bold" fill="#000">1.62</text>
<circle cx="461.3" cy="261.4" r="1.4" fill="#000"/>
<text x="461.3" y="259.1" text-anchor="middle" style="font-family:Liberation Sans,sans-serif;font-size:4.1px;font-weight:bold" fill="#000">1.21</text>
<text class="tk" x="370.3" y="275.6" text-anchor="middle" style="font-size:3.2px" fill="#555">0.5</text>
<text class="tk" x="376.8" y="272.6" text-anchor="middle" style="font-size:3.2px" fill="#555">0.75</text>
<text class="tk" x="387.7" y="269.7" text-anchor="middle" style="font-size:3.2px" fill="#555">1</text>
<text class="tk" x="395.4" y="266.9" text-anchor="middle" style="font-size:3.2px" fill="#555">1.25</text>
<text class="tk" x="406.3" y="264.3" text-anchor="middle" style="font-size:3.2px" fill="#555">1.5</text>
<text class="tk" x="413.9" y="257.7" text-anchor="middle" style="font-size:3.2px" fill="#555">1.75</text>
<text class="tk" x="379" y="261" text-anchor="middle" style="font-size:3.2px" fill="#555">2</text>
<text class="tk" x="336.3" y="280.9" text-anchor="middle">0</text>
<text class="tk" x="336.3" y="264.6" text-anchor="middle">0.5</text>
<text class="tk" x="336.3" y="248.3" text-anchor="middle">1</text>
<text class="tk" x="336.3" y="232.0" text-anchor="middle">1.5</text>
<text class="tk" x="336.3" y="215.7" text-anchor="middle">2</text>
<text class="tk" x="336.3" y="199.4" text-anchor="middle">2.5</text>
<text class="tk" x="336.3" y="183.1" text-anchor="middle">3</text>
<text class="tk" x="339.3" y="285.0" text-anchor="middle">0</text>
<text class="tk" x="355.5" y="285.0" text-anchor="middle">0.5</text>
<text class="tk" x="371.7" y="285.0" text-anchor="middle">1</text>
<text class="tk" x="387.9" y="285.0" text-anchor="middle">1.5</text>
<text class="tk" x="404.1" y="285.0" text-anchor="middle">2</text>
<text class="tk" x="420.3" y="285.0" text-anchor="middle">2.5</text>
<text class="tk" x="436.5" y="285.0" text-anchor="middle">3</text>
<text class="tk" x="452.7" y="285.0" text-anchor="middle">3.5</text>
<text class="tk" x="468.9" y="285.0" text-anchor="middle">4</text>
<text class="ax2" x="398.4" y="294.8">width (m)</text>
<text class="ax2" transform="translate(330,219.8) rotate(-90)" text-anchor="middle">height (m)</text>
<g stroke="#444" stroke-width="0.6" fill="none"><circle cx="473.4" cy="181.1" r="4"/><path d="M470.7,178.4 L476.09999999999997,183.79999999999998 M470.7,183.79999999999998 L476.09999999999997,178.4"/></g>
<rect x="495.9" y="182.10" width="5.7000000000000455" height="11.20" fill="#7c7c7c"/>
<rect x="495.9" y="193.00" width="5.7000000000000455" height="11.20" fill="#929292"/>
<rect x="495.9" y="203.90" width="5.7000000000000455" height="11.20" fill="#aaaaaa"/>
<rect x="495.9" y="214.80" width="5.7000000000000455" height="11.20" fill="#c4c4c4"/>
<rect x="495.9" y="225.70" width="5.7000000000000455" height="11.20" fill="#d4d4d4"/>
<rect x="495.9" y="236.60" width="5.7000000000000455" height="11.20" fill="#e2e2e2"/>
<rect x="495.9" y="247.50" width="5.7000000000000455" height="11.20" fill="#ececec"/>
<rect x="495.9" y="258.40" width="5.7000000000000455" height="11.20" fill="#f3f3f3"/>
<text class="tk" x="502.90000000000003" y="183.30" style="font-size:3.2px">2.5</text>
<text class="tk" x="502.90000000000003" y="194.20" style="font-size:3.2px">2.25</text>
<text class="tk" x="502.90000000000003" y="205.10" style="font-size:3.2px">2</text>
<text class="tk" x="502.90000000000003" y="216.00" style="font-size:3.2px">1.75</text>
<text class="tk" x="502.90000000000003" y="226.90" style="font-size:3.2px">1.5</text>
<text class="tk" x="502.90000000000003" y="237.80" style="font-size:3.2px">1.25</text>
<text class="tk" x="502.90000000000003" y="248.70" style="font-size:3.2px">1</text>
<text class="tk" x="502.90000000000003" y="259.60" style="font-size:3.2px">0.75</text>
<text class="tk" x="502.90000000000003" y="270.50" style="font-size:3.2px">0.5</text>
<text class="ax" x="519.6" y="224.7" text-anchor="middle" style="font-size:8px">V</text>
<text class="ax" x="519.1" y="231.7" text-anchor="middle" style="font-size:7.8px">(m/s)</text>
<path d="M338.6,170.2 L338.6,279.3 M484.9,170 L484.9,279.3" stroke="#d5d5d5" stroke-width="0.6"/>
<g filter="url(#bl2)">
<path d="M404.8,339.1 426.0,339.5 435.6,341.5 444.4,344.8 446.8,345.4 456.4,349.6 462.1,354.8 464.7,358.0 467.4,364.8 470.1,369.2 472.0,373.6 473.9,381.2 475.1,400.0 475.1,408.8 473.9,416.4 473.9,424.8 461.2,435.8 416.4,435.6 407.2,436.7 361.2,436.4 360.8,436.3 349.9,426.4 349.8,426.0 349.8,421.2 350.0,414.8 349.3,408.0 349.5,403.6 350.2,397.2 351.9,388.4 352.8,386.0 354.3,380.4 355.8,376.4 359.0,371.2 363.2,365.6 363.8,359.6 366.4,356.2 374.4,349.9 383.2,346.8 384.8,345.6 394.0,340.9 404.5,339.2ZM401.1,342.0 394.8,343.0 388.1,346.4 386.8,347.3 373.6,352.0 367.6,356.8 365.7,359.2 365.0,368.0 364.8,368.5 361.8,372.4 359.4,376.4 358.1,379.6 355.8,388.0 355.1,390.0 353.7,397.2 353.1,402.4 352.9,406.4 354.0,416.4 353.9,426.0 362.6,434.0 363.2,434.2 378.8,434.2 389.2,434.6 405.6,434.6 418.4,433.1 458.8,433.3 468.7,424.8 468.7,418.0 470.5,407.2 470.5,400.0 469.4,380.8 467.8,374.8 466.3,371.2 464.1,367.6 460.2,357.6 458.6,355.6 454.4,351.8 448.0,349.0 446.4,348.6 432.4,343.4 425.6,342.1 403.2,341.7 401.2,342.0Z" fill="#f6f6f6"/>
<path d="M401.2,342.0 403.2,341.7 425.6,342.1 432.4,343.4 446.4,348.6 448.0,349.0 454.4,351.8 458.6,355.6 460.2,357.6 464.1,367.6 466.3,371.2 467.8,374.8 469.4,380.8 470.5,400.0 470.5,407.2 468.7,418.0 468.7,424.8 458.8,433.3 418.4,433.1 405.6,434.6 389.2,434.6 378.8,434.2 363.2,434.2 362.6,434.0 353.9,426.0 354.0,416.4 352.9,406.4 353.1,402.4 353.7,397.2 355.1,390.0 355.8,388.0 358.1,379.6 359.4,376.4 361.8,372.4 364.8,368.5 365.0,368.0 365.7,359.2 367.6,356.8 373.6,352.0 386.8,347.3 388.1,346.4 394.8,343.0 401.1,342.0ZM400.2,344.4 395.4,345.2 390.0,348.0 372.8,354.1 368.9,357.2 367.7,358.8 366.8,370.8 364.4,374.0 362.7,376.8 361.9,378.8 358.9,390.0 358.3,391.6 357.1,397.6 356.7,401.6 356.5,404.8 357.9,418.4 357.8,425.6 364.8,432.0 377.2,432.0 390.4,432.5 403.6,432.5 420.8,430.5 456.4,430.8 463.5,424.8 463.6,419.6 465.9,405.6 465.9,400.0 464.8,380.4 463.7,376.0 462.5,373.2 460.8,370.4 455.8,357.2 454.7,356.0 452.4,354.0 449.2,352.6 429.6,345.5 425.6,344.7 400.4,344.4Z" fill="#eeeeee"/>
<path d="M400.4,344.4 425.6,344.7 429.6,345.5 449.2,352.6 452.4,354.0 454.7,356.0 455.8,357.2 460.8,370.4 462.5,373.2 463.7,376.0 464.8,380.4 465.9,400.0 465.9,405.6 463.6,419.6 463.5,424.8 456.4,430.8 420.8,430.5 403.6,432.5 390.4,432.5 377.2,432.0 364.8,432.0 357.8,425.6 357.9,418.4 356.5,404.8 356.7,401.6 357.1,397.6 358.3,391.6 358.9,390.0 361.9,378.8 362.7,376.8 364.4,374.0 366.8,370.8 367.7,358.8 368.9,357.2 372.8,354.1 390.0,348.0 395.4,345.2 400.2,344.4ZM396.7,347.2 396.0,347.4 393.9,348.4 372.0,356.3 370.3,357.6 369.8,358.4 368.6,373.2 366.2,376.8 365.6,378.4 361.5,393.2 360.6,398.0 360.1,403.2 361.9,420.0 361.8,425.2 366.5,429.6 367.2,429.8 375.6,429.8 392.0,430.5 401.6,430.5 422.8,427.9 454.0,428.3 454.4,428.1 458.2,424.8 458.4,424.4 458.5,421.6 461.4,404.0 461.4,400.0 460.4,380.4 459.6,377.2 458.7,375.2 457.5,373.2 451.3,356.8 450.4,356.2 427.2,347.6 426.0,347.4 398.4,347.0 396.8,347.2Z" fill="#e4e4e4"/>
<path d="M396.8,347.2 398.4,347.0 426.0,347.4 427.2,347.6 450.4,356.2 451.3,356.8 457.5,373.2 458.7,375.2 459.6,377.2 460.4,380.4 461.4,400.0 461.4,404.0 458.5,421.6 458.4,424.4 458.2,424.8 454.4,428.1 454.0,428.3 422.8,427.9 401.6,430.5 392.0,430.5 375.6,429.8 367.2,429.8 366.5,429.6 361.8,425.2 361.9,420.0 360.1,403.2 360.6,398.0 361.5,393.2 365.6,378.4 366.2,376.8 368.6,373.2 369.8,358.4 370.3,357.6 372.0,356.3 393.9,348.4 396.0,347.4 396.7,347.2ZM425.4,352.8 419.2,354.2 396.4,353.3 374.0,359.3 373.6,359.6 371.6,362.9 371.2,365.9 370.5,375.6 369.4,377.6 364.7,394.8 364.1,398.0 363.8,401.6 365.8,421.6 365.8,424.8 368.8,427.6 374.0,427.6 393.6,428.4 400.0,428.4 425.2,425.3 451.6,425.8 452.1,425.6 453.3,424.4 453.3,423.2 456.8,402.0 455.9,380.8 455.4,378.4 454.4,376.4 450.4,366.2 445.2,360.8 426.0,352.7 425.6,352.7Z" fill="#d8d8d8"/>
<path d="M425.6,352.7 426.0,352.7 445.2,360.8 450.4,366.2 454.4,376.4 455.4,378.4 455.9,380.8 456.8,402.0 453.3,423.2 453.3,424.4 452.1,425.6 451.6,425.8 425.2,425.3 400.0,428.4 393.6,428.4 374.0,427.6 368.8,427.6 365.8,424.8 365.8,421.6 363.8,401.6 364.1,398.0 364.7,394.8 369.4,377.6 370.5,375.6 371.2,365.9 371.6,362.9 373.6,359.6 374.0,359.3 396.4,353.3 419.2,354.2 425.4,352.8Z" fill="#c6c6c6"/>
<path d="M368.5,426 L369,370 L370,368 L425,367.5 L436,367.5 L443,372 L453.5,377 L454.5,410 L450.9,410.5 L432.7,406.8 L414.5,410.5 L403.6,423.2 L396,426.5Z" fill="#a8a8a8"/>
<path d="M371.8,404.1 L371.8,401.4 L380,388.6 L396.4,375 L429.1,376.8 L431.8,390.5 L431.8,399.5 L423.6,404.1 L414.5,405.9 L409.1,410.5 L400,421.4 L395.5,423.2 L378.2,410.5Z" fill="#909090"/>
</g>

<path d="M341.8,440.8 C341.8,437.3 341.7,426.0 341.8,420.0 C341.9,414.0 342.1,408.9 342.3,405.0 C342.6,401.1 342.8,399.9 343.3,396.6 C343.8,393.3 344.6,388.4 345.5,385.0 C346.4,381.6 347.7,378.7 349.0,376.0 C350.3,373.3 351.1,372.0 353.5,368.6 C355.9,365.2 359.5,359.6 363.6,355.5 C367.7,351.4 373.4,347.0 378.2,343.9 C383.0,340.8 387.4,338.3 392.7,336.6 C398.0,334.9 404.4,334.2 410.0,333.8 C415.6,333.4 420.3,333.5 426.0,334.2 C431.7,334.9 438.3,336.2 444.0,338.0 C449.7,339.8 455.3,342.0 460.0,345.0 C464.7,348.0 468.8,352.2 472.0,356.0 C475.2,359.8 477.7,363.7 479.5,368.0 C481.3,372.3 482.2,376.7 483.0,382.0 C483.8,387.3 484.0,390.2 484.2,400.0 C484.4,409.8 484.2,434.0 484.2,440.8" fill="none" stroke="#222" stroke-width="0.9"/>
<path d="M341.8,440.8 L484.2,440.8" stroke="#333" stroke-width="0.9"/>
<circle cx="396.5" cy="348.5" r="1.4" fill="#000"/>
<text x="396.5" y="346.2" text-anchor="middle" style="font-family:Liberation Sans,sans-serif;font-size:4.1px;font-weight:bold" fill="#000">1.39</text>
<circle cx="425.9" cy="348.5" r="1.4" fill="#000"/>
<text x="425.9" y="346.2" text-anchor="middle" style="font-family:Liberation Sans,sans-serif;font-size:4.1px;font-weight:bold" fill="#000">1.36</text>
<circle cx="371.4" cy="357.9" r="1.4" fill="#000"/>
<text x="371.4" y="355.6" text-anchor="middle" style="font-family:Liberation Sans,sans-serif;font-size:4.1px;font-weight:bold" fill="#000">1.45</text>
<circle cx="450.6" cy="356.8" r="1.4" fill="#000"/>
<text x="450.6" y="354.5" text-anchor="middle" style="font-family:Liberation Sans,sans-serif;font-size:4.1px;font-weight:bold" fill="#000">1.29</text>
<circle cx="371.4" cy="377.1" r="1.4" fill="#000"/>
<text x="371.4" y="374.8" text-anchor="middle" style="font-family:Liberation Sans,sans-serif;font-size:4.1px;font-weight:bold" fill="#000">1.63</text>
<circle cx="396.5" cy="374.7" r="1.4" fill="#000"/>
<text x="396.5" y="372.4" text-anchor="middle" style="font-family:Liberation Sans,sans-serif;font-size:4.1px;font-weight:bold" fill="#000">2</text>
<circle cx="425.9" cy="374.7" r="1.4" fill="#000"/>
<text x="425.9" y="372.4" text-anchor="middle" style="font-family:Liberation Sans,sans-serif;font-size:4.1px;font-weight:bold" fill="#000">2.24</text>
<circle cx="450.6" cy="379.7" r="1.4" fill="#000"/>
<text x="450.6" y="377.4" text-anchor="middle" style="font-family:Liberation Sans,sans-serif;font-size:4.1px;font-weight:bold" fill="#000">1.79</text>
<circle cx="371.4" cy="398.4" r="1.4" fill="#000"/>
<text x="371.4" y="396.1" text-anchor="middle" style="font-family:Liberation Sans,sans-serif;font-size:4.1px;font-weight:bold" fill="#000">2.03</text>
<circle cx="396.5" cy="398.4" r="1.4" fill="#000"/>
<text x="396.5" y="396.1" text-anchor="middle" style="font-family:Liberation Sans,sans-serif;font-size:4.1px;font-weight:bold" fill="#000">2.21</text>
<circle cx="425.9" cy="398.4" r="1.4" fill="#000"/>
<text x="425.9" y="396.1" text-anchor="middle" style="font-family:Liberation Sans,sans-serif;font-size:4.1px;font-weight:bold" fill="#000">2.26</text>
<circle cx="450.6" cy="399.8" r="1.4" fill="#000"/>
<text x="450.6" y="397.5" text-anchor="middle" style="font-family:Liberation Sans,sans-serif;font-size:4.1px;font-weight:bold" fill="#000">1.84</text>
<circle cx="371.4" cy="424.5" r="1.4" fill="#000"/>
<text x="371.4" y="422.2" text-anchor="middle" style="font-family:Liberation Sans,sans-serif;font-size:4.1px;font-weight:bold" fill="#000">1.85</text>
<circle cx="396.5" cy="424.5" r="1.4" fill="#000"/>
<text x="396.5" y="422.2" text-anchor="middle" style="font-family:Liberation Sans,sans-serif;font-size:4.1px;font-weight:bold" fill="#000">1.97</text>
<circle cx="425.9" cy="424.5" r="1.4" fill="#000"/>
<text x="425.9" y="422.2" text-anchor="middle" style="font-family:Liberation Sans,sans-serif;font-size:4.1px;font-weight:bold" fill="#000">1.58</text>
<circle cx="450.6" cy="424.5" r="1.4" fill="#000"/>
<text x="450.6" y="422.2" text-anchor="middle" style="font-family:Liberation Sans,sans-serif;font-size:4.1px;font-weight:bold" fill="#000">1.63</text>
<text class="tk" x="373" y="437.5" text-anchor="middle" style="font-size:3.2px" fill="#555">0.5</text>
<text class="tk" x="379" y="435.5" text-anchor="middle" style="font-size:3.2px" fill="#555">0.75</text>
<text class="tk" x="385" y="433" text-anchor="middle" style="font-size:3.2px" fill="#555">1</text>
<text class="tk" x="390" y="431.5" text-anchor="middle" style="font-size:3.2px" fill="#555">1.25</text>
<text class="tk" x="398" y="429.5" text-anchor="middle" style="font-size:3.2px" fill="#555">1.5</text>
<text class="tk" x="405" y="427" text-anchor="middle" style="font-size:3.2px" fill="#555">1.75</text>
<text class="tk" x="418" y="406.4" text-anchor="middle" style="font-size:3.2px" fill="#555">2</text>
<text class="tk" x="338.8" y="442.3" text-anchor="middle">0</text>
<text class="tk" x="338.8" y="426.1" text-anchor="middle">0.5</text>
<text class="tk" x="338.8" y="409.9" text-anchor="middle">1</text>
<text class="tk" x="338.8" y="393.8" text-anchor="middle">1.5</text>
<text class="tk" x="338.8" y="377.6" text-anchor="middle">2</text>
<text class="tk" x="338.8" y="361.4" text-anchor="middle">2.5</text>
<text class="tk" x="338.8" y="345.2" text-anchor="middle">3</text>
<text class="tk" x="341.7" y="446.7" text-anchor="middle">0</text>
<text class="tk" x="357.8" y="446.7" text-anchor="middle">0.5</text>
<text class="tk" x="373.9" y="446.7" text-anchor="middle">1</text>
<text class="tk" x="390.0" y="446.7" text-anchor="middle">1.5</text>
<text class="tk" x="406.1" y="446.7" text-anchor="middle">2</text>
<text class="tk" x="422.2" y="446.7" text-anchor="middle">2.5</text>
<text class="tk" x="438.3" y="446.7" text-anchor="middle">3</text>
<text class="tk" x="454.4" y="446.7" text-anchor="middle">3.5</text>
<text class="tk" x="470.5" y="446.7" text-anchor="middle">4</text>
<text class="ax2" x="400.7" y="456.8">width (m)</text>
<text class="ax2" transform="translate(330.5,383.4) rotate(-90)" text-anchor="middle">height (m)</text>
<g stroke="#444" stroke-width="0.6" fill="none"><circle cx="474" cy="342.5" r="4"/><path d="M471.3,339.8 L476.7,345.2 M471.3,345.2 L476.7,339.8"/></g>
<rect x="495.6" y="345.00" width="5.7999999999999545" height="11.18" fill="#7c7c7c"/>
<rect x="495.6" y="355.88" width="5.7999999999999545" height="11.18" fill="#929292"/>
<rect x="495.6" y="366.75" width="5.7999999999999545" height="11.18" fill="#aaaaaa"/>
<rect x="495.6" y="377.62" width="5.7999999999999545" height="11.18" fill="#c4c4c4"/>
<rect x="495.6" y="388.50" width="5.7999999999999545" height="11.18" fill="#d4d4d4"/>
<rect x="495.6" y="399.38" width="5.7999999999999545" height="11.18" fill="#e2e2e2"/>
<rect x="495.6" y="410.25" width="5.7999999999999545" height="11.18" fill="#ececec"/>
<rect x="495.6" y="421.12" width="5.7999999999999545" height="11.18" fill="#f3f3f3"/>
<text class="tk" x="502.7" y="346.20" style="font-size:3.2px">2.5</text>
<text class="tk" x="502.7" y="357.07" style="font-size:3.2px">2.25</text>
<text class="tk" x="502.7" y="367.95" style="font-size:3.2px">2</text>
<text class="tk" x="502.7" y="378.82" style="font-size:3.2px">1.75</text>
<text class="tk" x="502.7" y="389.70" style="font-size:3.2px">1.5</text>
<text class="tk" x="502.7" y="400.57" style="font-size:3.2px">1.25</text>
<text class="tk" x="502.7" y="411.45" style="font-size:3.2px">1</text>
<text class="tk" x="502.7" y="422.32" style="font-size:3.2px">0.75</text>
<text class="tk" x="502.7" y="433.20" style="font-size:3.2px">0.5</text>
<text class="ax" x="519.4" y="387.5" text-anchor="middle" style="font-size:8px">V</text>
<text class="ax" x="518.9" y="394.5" text-anchor="middle" style="font-size:7.8px">(m/s)</text>
<path d="M342.1,333.7 L530,333.7" stroke="#d5d5d5" stroke-width="0.6"/>
</svg></body></html>
